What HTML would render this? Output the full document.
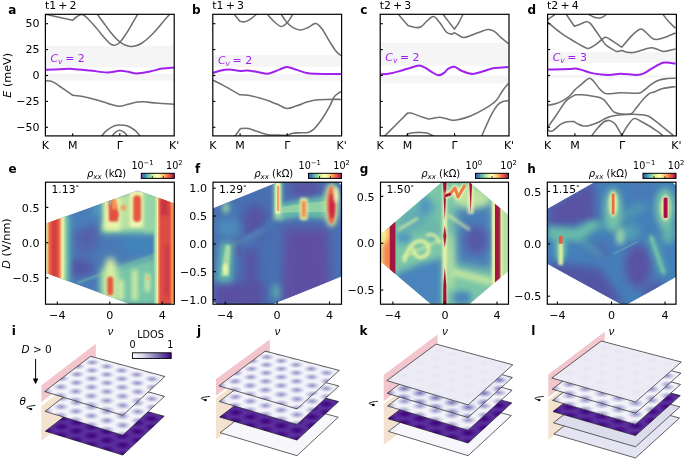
<!DOCTYPE html>
<html><head><meta charset="utf-8"><style>
html,body{margin:0;padding:0;background:#fff;}
svg{display:block;font-family:'DejaVu Sans','Liberation Sans',sans-serif;}
</style></head><body>
<svg width="685" height="460" viewBox="0 0 685 460">
<defs><clipPath id="clipA0"><rect x="45.4" y="14.3" width="128.8" height="121.60000000000001"/></clipPath><clipPath id="clipA1"><rect x="212.8" y="14.3" width="128.8" height="121.60000000000001"/></clipPath><clipPath id="clipA2"><rect x="380.2" y="14.3" width="128.8" height="121.60000000000001"/></clipPath><clipPath id="clipA3"><rect x="547.6" y="14.3" width="128.8" height="121.60000000000001"/></clipPath><linearGradient id="gLeftG" x1="0" x2="1" y1="0" y2="0"><stop offset="0" stop-color="#e2f39b"/><stop offset="0.45" stop-color="#fbe889"/><stop offset="1" stop-color="#f8a35d"/></linearGradient><linearGradient id="spec" x1="0" x2="1" y1="0" y2="0"><stop offset="0.00" stop-color="#5e4fa2"/><stop offset="0.10" stop-color="#3288bd"/><stop offset="0.20" stop-color="#66c2a5"/><stop offset="0.30" stop-color="#abdda4"/><stop offset="0.40" stop-color="#e6f598"/><stop offset="0.50" stop-color="#ffffbf"/><stop offset="0.60" stop-color="#fee08b"/><stop offset="0.70" stop-color="#fdae61"/><stop offset="0.80" stop-color="#f46d43"/><stop offset="0.90" stop-color="#d53e4f"/><stop offset="1.00" stop-color="#9e0142"/></linearGradient><filter id="b0_5" x="-100%" y="-100%" width="300%" height="300%"><feGaussianBlur stdDeviation="0.5"/></filter><filter id="b0_6" x="-100%" y="-100%" width="300%" height="300%"><feGaussianBlur stdDeviation="0.6"/></filter><filter id="b0_7" x="-100%" y="-100%" width="300%" height="300%"><feGaussianBlur stdDeviation="0.7"/></filter><filter id="b0_8" x="-100%" y="-100%" width="300%" height="300%"><feGaussianBlur stdDeviation="0.8"/></filter><filter id="b1" x="-100%" y="-100%" width="300%" height="300%"><feGaussianBlur stdDeviation="1"/></filter><filter id="b1_2" x="-100%" y="-100%" width="300%" height="300%"><feGaussianBlur stdDeviation="1.2"/></filter><filter id="b1_3" x="-100%" y="-100%" width="300%" height="300%"><feGaussianBlur stdDeviation="1.3"/></filter><filter id="b1_5" x="-100%" y="-100%" width="300%" height="300%"><feGaussianBlur stdDeviation="1.5"/></filter><filter id="b2" x="-100%" y="-100%" width="300%" height="300%"><feGaussianBlur stdDeviation="2"/></filter><filter id="b2_5" x="-100%" y="-100%" width="300%" height="300%"><feGaussianBlur stdDeviation="2.5"/></filter><filter id="b3" x="-100%" y="-100%" width="300%" height="300%"><feGaussianBlur stdDeviation="3"/></filter><filter id="b3_5" x="-100%" y="-100%" width="300%" height="300%"><feGaussianBlur stdDeviation="3.5"/></filter><filter id="b4" x="-100%" y="-100%" width="300%" height="300%"><feGaussianBlur stdDeviation="4"/></filter><filter id="b5" x="-100%" y="-100%" width="300%" height="300%"><feGaussianBlur stdDeviation="5"/></filter><filter id="b6" x="-100%" y="-100%" width="300%" height="300%"><feGaussianBlur stdDeviation="6"/></filter><filter id="b7" x="-100%" y="-100%" width="300%" height="300%"><feGaussianBlur stdDeviation="7"/></filter><filter id="b8" x="-100%" y="-100%" width="300%" height="300%"><feGaussianBlur stdDeviation="8"/></filter><filter id="b10" x="-100%" y="-100%" width="300%" height="300%"><feGaussianBlur stdDeviation="10"/></filter><clipPath id="hc0"><polygon points="45.5,223.8 137.8,190.6 174.3,203.4 174.3,301.6 170.5,304.2 130.4,304.2 45.5,272.7"/></clipPath><clipPath id="hc1"><polygon points="213,208.3 277.5,182.2 338.4,182.2 341.5,185.5 341.5,276.6 272.5,304.2 217.5,304.2 213,301.7"/></clipPath><clipPath id="hc2"><polygon points="380.5,234.5 441.6,182.2 469.7,182.2 508.5,215.3 508.5,270.8 469.4,304.2 431.1,304.2 380.5,261.5"/></clipPath><clipPath id="hc3"><polygon points="547.3,209.0 594.5,182.2 672.3,182.2 676,185.5 676,277.0 627.4,304.2 621,304.2 547.3,263.7"/></clipPath><radialGradient id="dotL"><stop offset="0" stop-color="#8c89c4" stop-opacity="0.95"/><stop offset="0.45" stop-color="#a3a1d0" stop-opacity="0.6"/><stop offset="1" stop-color="#c8c6e2" stop-opacity="0"/></radialGradient><radialGradient id="dotM"><stop offset="0" stop-color="#7470b5" stop-opacity="1"/><stop offset="0.45" stop-color="#8f8cc4" stop-opacity="0.65"/><stop offset="1" stop-color="#b8b6da" stop-opacity="0"/></radialGradient><radialGradient id="dotD"><stop offset="0" stop-color="#3c007a" stop-opacity="1"/><stop offset="0.5" stop-color="#42087e" stop-opacity="0.6"/><stop offset="1" stop-color="#4a1588" stop-opacity="0"/></radialGradient><radialGradient id="dotP"><stop offset="0" stop-color="#d6d5ea" stop-opacity="0.4"/><stop offset="1" stop-color="#e8e7f3" stop-opacity="0"/></radialGradient><linearGradient id="ldos" x1="0" x2="1" y1="0" y2="0"><stop offset="0" stop-color="#fcfbfd"/><stop offset="0.25" stop-color="#dadaeb"/><stop offset="0.5" stop-color="#9e9ac8"/><stop offset="0.75" stop-color="#6a51a3"/><stop offset="1" stop-color="#3f007d"/></linearGradient><clipPath id="lc1"><polygon points="90.60,396.00 164.20,416.20 122.80,455.10 45.40,431.20"/></clipPath><clipPath id="lc2"><polygon points="90.60,376.15 164.55,396.35 122.80,435.25 45.00,411.35"/></clipPath><clipPath id="lc3"><polygon points="90.60,356.30 164.90,376.50 122.80,415.40 44.60,391.50"/></clipPath><clipPath id="lc4"><polygon points="265.20,397.90 338.25,417.20 297.00,455.70 220.10,432.70"/></clipPath><clipPath id="lc5"><polygon points="265.20,382.30 338.60,401.60 297.00,440.10 219.70,417.10"/></clipPath><clipPath id="lc6"><polygon points="265.20,366.70 338.95,386.00 297.00,424.50 219.30,401.50"/></clipPath><clipPath id="lc7"><polygon points="265.20,351.10 339.30,370.40 297.00,408.90 218.90,385.90"/></clipPath><clipPath id="lc8"><polygon points="436.10,394.90 511.40,415.60 468.10,455.70 388.40,431.40"/></clipPath><clipPath id="lc9"><polygon points="436.10,382.20 511.75,402.90 468.10,443.00 388.00,418.70"/></clipPath><clipPath id="lc10"><polygon points="436.10,369.50 512.10,390.20 468.10,430.30 387.60,406.00"/></clipPath><clipPath id="lc11"><polygon points="436.10,356.80 512.45,377.50 468.10,417.60 387.20,393.30"/></clipPath><clipPath id="lc12"><polygon points="436.10,344.10 512.80,364.80 468.10,404.90 386.80,380.60"/></clipPath><clipPath id="lc13"><polygon points="601.30,397.00 679.55,418.00 635.50,458.00 553.80,434.00"/></clipPath><clipPath id="lc14"><polygon points="601.30,385.80 679.90,406.80 635.50,446.80 553.40,422.80"/></clipPath><clipPath id="lc15"><polygon points="601.30,374.60 680.25,395.60 635.50,435.60 553.00,411.60"/></clipPath><clipPath id="lc16"><polygon points="601.30,363.40 680.60,384.40 635.50,424.40 552.60,400.40"/></clipPath><clipPath id="lc17"><polygon points="601.30,352.20 680.95,373.20 635.50,413.20 552.20,389.20"/></clipPath><clipPath id="lc18"><polygon points="601.30,341.00 681.30,362.00 635.50,402.00 551.80,378.00"/></clipPath></defs>
<rect width="685" height="460" fill="#fff"/>
<rect x="45.4" y="45.8" width="128.8" height="21.60000000000001" fill="#f5f5f5"/>
<rect x="45.4" y="73.9" width="128.8" height="6.699999999999989" fill="#f5f5f5"/>
<g clip-path="url(#clipA0)" fill="none" stroke="#707070" stroke-width="1.55" stroke-linejoin="round">
<path d="M45.40,14.30 L72.60,20.30 C73.25,19.75 75.13,17.95 76.50,17.00 C77.87,16.05 79.55,14.88 80.80,14.60 C82.05,14.32 82.80,14.60 84.00,15.30 C85.20,16.00 86.17,16.93 88.00,18.80 C89.83,20.67 93.00,24.22 95.00,26.50 C97.00,28.78 98.17,30.33 100.00,32.50 C101.83,34.67 104.33,37.65 106.00,39.50 C107.67,41.35 108.72,42.63 110.00,43.60 C111.28,44.57 112.53,45.17 113.70,45.30 C114.87,45.43 115.93,44.93 117.00,44.40 C118.07,43.87 118.60,43.83 120.10,42.10 C121.60,40.37 124.02,37.02 126.00,34.00 C127.98,30.98 130.07,27.28 132.00,24.00 C133.93,20.72 136.67,15.92 137.60,14.30"/>
<path d="M97.30,14.30 C98.25,15.58 100.88,19.13 103.00,22.00 C105.12,24.87 107.83,28.75 110.00,31.50 C112.17,34.25 114.32,36.73 116.00,38.50 C117.68,40.27 118.60,41.02 120.10,42.10 C121.60,43.18 123.25,44.27 125.00,45.00 C126.75,45.73 128.77,46.37 130.60,46.50 C132.43,46.63 134.10,46.38 136.00,45.80 C137.90,45.22 139.67,44.55 142.00,43.00 C144.33,41.45 147.33,39.00 150.00,36.50 C152.67,34.00 155.50,30.83 158.00,28.00 C160.50,25.17 163.03,21.78 165.00,19.50 C166.97,17.22 169.00,15.17 169.80,14.30"/>
<path d="M45.40,80.60 C46.18,80.68 48.63,80.77 50.10,81.10 C51.57,81.43 52.55,81.70 54.20,82.60 C55.85,83.50 56.90,84.38 60.00,86.50 C63.10,88.62 70.67,93.83 72.80,95.30 C74.47,95.48 79.08,95.70 82.80,96.40 C86.52,97.10 91.35,98.47 95.10,99.50 C98.85,100.53 102.58,101.75 105.30,102.60 C108.02,103.45 108.98,103.98 111.40,104.60 C113.82,105.22 117.00,106.37 119.80,106.30 C122.60,106.23 125.23,104.90 128.20,104.20 C131.17,103.50 134.97,102.50 137.60,102.10 C140.23,101.70 140.83,101.63 144.00,101.80 C147.17,101.97 151.57,102.70 156.60,103.10 C161.63,103.50 171.27,104.02 174.20,104.20"/>
<path d="M101.30,136.50 C101.75,135.93 102.85,134.28 104.00,133.10 C105.15,131.92 106.45,130.62 108.20,129.40 C109.95,128.18 112.57,126.53 114.50,125.80 C116.43,125.07 117.70,125.00 119.80,125.00 C121.90,125.00 124.65,124.97 127.10,125.80 C129.55,126.63 132.68,128.72 134.50,130.00 C136.32,131.28 137.03,132.42 138.00,133.50 C138.97,134.58 139.92,136.00 140.30,136.50"/>
<path d="M111.90,136.50 C112.42,135.87 113.68,133.73 115.00,132.70 C116.32,131.67 118.22,130.30 119.80,130.30 C121.38,130.30 123.18,131.67 124.50,132.70 C125.82,133.73 127.17,135.87 127.70,136.50"/>
<path d="M45.40,69.70 C47.83,69.62 55.45,69.33 60.00,69.20 C64.55,69.07 67.70,68.68 72.70,68.90 C77.70,69.12 84.28,69.90 90.00,70.50 C95.72,71.10 102.00,72.45 107.00,72.50 C112.00,72.55 116.50,70.92 120.00,70.80 C123.50,70.68 125.17,71.35 128.00,71.80 C130.83,72.25 133.33,73.55 137.00,73.50 C140.67,73.45 145.83,72.32 150.00,71.50 C154.17,70.68 157.97,69.27 162.00,68.60 C166.03,67.93 172.17,67.68 174.20,67.50" stroke="#a020f0" stroke-width="2"/>
</g>
<rect x="45.4" y="14.3" width="128.8" height="121.60000000000001" fill="none" stroke="#000" stroke-width="1.2"/>
<line x1="45.4" y1="23.70" x2="48.0" y2="23.70" stroke="#000" stroke-width="1.1"/>
<line x1="45.4" y1="49.60" x2="48.0" y2="49.60" stroke="#000" stroke-width="1.1"/>
<line x1="45.4" y1="75.50" x2="48.0" y2="75.50" stroke="#000" stroke-width="1.1"/>
<line x1="45.4" y1="101.40" x2="48.0" y2="101.40" stroke="#000" stroke-width="1.1"/>
<line x1="45.4" y1="127.30" x2="48.0" y2="127.30" stroke="#000" stroke-width="1.1"/>
<line x1="72.70" y1="135.9" x2="72.70" y2="133.3" stroke="#000" stroke-width="1.1"/>
<line x1="119.80" y1="135.9" x2="119.80" y2="133.3" stroke="#000" stroke-width="1.1"/>
<text x="45.40" y="148.9" font-size="11" text-anchor="middle">K</text>
<text x="72.70" y="148.9" font-size="11" text-anchor="middle">M</text>
<text x="119.80" y="148.9" font-size="11" text-anchor="middle">Γ</text>
<text x="174.20" y="148.9" font-size="11" text-anchor="middle">K'</text>
<text x="44.9" y="9.2" font-size="10.9" word-spacing="-1.3">t1 + 2</text>
<text x="50.5" y="62" font-size="10.9" fill="#a020f0"><tspan font-style="italic">C</tspan><tspan font-style="italic" font-size="7.6" dy="2">v</tspan><tspan dy="-2" dx="-0.9"> = 2</tspan></text>
<rect x="212.8" y="55.1" width="128.8" height="11.699999999999996" fill="#f5f5f5"/>
<rect x="212.8" y="74.2" width="128.8" height="6.5" fill="#f5f5f5"/>
<g clip-path="url(#clipA1)" fill="none" stroke="#707070" stroke-width="1.55" stroke-linejoin="round">
<path d="M234.20,14.30 L239.90,21.20 C240.72,21.30 243.03,22.13 244.80,21.80 C246.57,21.47 248.58,20.45 250.50,19.20 C252.42,17.95 255.33,15.12 256.30,14.30"/>
<path d="M267.40,14.30 C268.50,15.50 271.70,19.48 274.00,21.50 C276.30,23.52 279.02,26.18 281.20,26.40 C283.38,26.62 285.15,24.82 287.10,22.80 C289.05,20.78 291.93,15.72 292.90,14.30"/>
<path d="M281.20,14.30 C282.18,15.72 285.12,20.58 287.10,22.80 C289.08,25.02 290.90,26.40 293.10,27.60 C295.30,28.80 297.82,30.02 300.30,30.00 C302.78,29.98 305.40,28.60 308.00,27.50 C310.60,26.40 313.58,23.18 315.90,23.40 C318.22,23.62 319.70,25.92 321.90,28.80 C324.10,31.68 326.70,36.92 329.10,40.70 C331.50,44.48 334.23,48.98 336.30,51.50 C338.37,54.02 340.63,55.08 341.50,55.80"/>
<path d="M212.80,80.10 C214.55,80.98 218.82,82.95 223.30,85.40 C227.78,87.85 236.97,93.23 239.70,94.80 C241.12,94.88 244.90,94.78 248.20,95.30 C251.50,95.82 256.12,97.00 259.50,97.90 C262.88,98.80 265.18,99.48 268.50,100.70 C271.82,101.92 276.33,103.90 279.40,105.20 C282.47,106.50 284.00,108.40 286.90,108.50 C289.80,108.60 293.50,106.87 296.80,105.80 C300.10,104.73 303.60,103.08 306.70,102.10 C309.80,101.12 311.88,100.35 315.40,99.90 C318.92,99.45 323.45,99.48 327.80,99.40 C332.15,99.32 339.22,99.40 341.50,99.40"/>
<path d="M234.70,136.50 L240.50,128.50 C241.85,128.50 245.65,127.95 248.60,128.50 C251.55,129.05 254.98,130.77 258.20,131.80 C261.42,132.83 264.68,134.15 267.90,134.70 C271.12,135.25 274.45,135.00 277.50,135.10 C280.55,135.20 283.63,135.60 286.20,135.30 C288.77,135.00 290.50,133.72 292.90,133.30 C295.30,132.88 298.03,132.95 300.60,132.80 C303.17,132.65 306.05,133.05 308.30,132.40 C310.55,131.75 311.85,131.08 314.10,128.90 C316.35,126.72 319.23,123.00 321.80,119.30 C324.37,115.60 327.47,110.40 329.50,106.70 C331.53,103.00 332.43,99.42 334.00,97.10 C335.57,94.78 337.65,93.72 338.90,92.80 C340.15,91.88 341.07,91.80 341.50,91.60"/>
<path d="M212.80,73.00 C213.98,72.62 217.20,71.27 219.90,70.70 C222.60,70.13 225.62,69.55 229.00,69.60 C232.38,69.65 237.20,70.87 240.20,71.00 C243.20,71.13 244.17,70.25 247.00,70.40 C249.83,70.55 253.80,71.33 257.20,71.90 C260.60,72.47 264.38,73.90 267.40,73.80 C270.42,73.70 273.30,72.00 275.30,71.30 C277.30,70.60 277.47,70.32 279.40,69.60 C281.33,68.88 284.00,66.95 286.90,67.00 C289.80,67.05 293.50,68.90 296.80,69.90 C300.10,70.90 303.60,72.35 306.70,73.00 C309.80,73.65 311.85,73.65 315.40,73.80 C318.95,73.95 323.65,73.88 328.00,73.90 C332.35,73.92 339.25,73.90 341.50,73.90" stroke="#a020f0" stroke-width="2"/>
</g>
<rect x="212.8" y="14.3" width="128.8" height="121.60000000000001" fill="none" stroke="#000" stroke-width="1.2"/>
<line x1="212.8" y1="23.70" x2="215.4" y2="23.70" stroke="#000" stroke-width="1.1"/>
<line x1="212.8" y1="49.60" x2="215.4" y2="49.60" stroke="#000" stroke-width="1.1"/>
<line x1="212.8" y1="75.50" x2="215.4" y2="75.50" stroke="#000" stroke-width="1.1"/>
<line x1="212.8" y1="101.40" x2="215.4" y2="101.40" stroke="#000" stroke-width="1.1"/>
<line x1="212.8" y1="127.30" x2="215.4" y2="127.30" stroke="#000" stroke-width="1.1"/>
<line x1="240.10" y1="135.9" x2="240.10" y2="133.3" stroke="#000" stroke-width="1.1"/>
<line x1="287.20" y1="135.9" x2="287.20" y2="133.3" stroke="#000" stroke-width="1.1"/>
<text x="212.80" y="148.9" font-size="11" text-anchor="middle">K</text>
<text x="240.10" y="148.9" font-size="11" text-anchor="middle">M</text>
<text x="287.20" y="148.9" font-size="11" text-anchor="middle">Γ</text>
<text x="341.60" y="148.9" font-size="11" text-anchor="middle">K'</text>
<text x="212.3" y="9.2" font-size="10.9" word-spacing="-1.3">t1 + 3</text>
<text x="217.9" y="63.5" font-size="10.9" fill="#a020f0"><tspan font-style="italic">C</tspan><tspan font-style="italic" font-size="7.6" dy="2">v</tspan><tspan dy="-2" dx="-0.9"> = 2</tspan></text>
<rect x="380.2" y="42.8" width="128.8" height="22.700000000000003" fill="#f5f5f5"/>
<rect x="380.2" y="75.5" width="128.8" height="7.799999999999997" fill="#f5f5f5"/>
<g clip-path="url(#clipA2)" fill="none" stroke="#707070" stroke-width="1.55" stroke-linejoin="round">
<path d="M398.30,14.30 L407.90,25.50 C409.35,25.85 414.35,27.43 416.60,27.60 C418.85,27.77 419.67,27.60 421.40,26.50 C423.13,25.40 424.98,22.65 427.00,21.00 C429.02,19.35 431.38,16.33 433.50,16.60 C435.62,16.87 437.62,20.08 439.70,22.60 C441.78,25.12 444.10,29.78 446.00,31.70 C447.90,33.62 449.70,33.93 451.10,34.10 C452.50,34.27 453.85,32.93 454.40,32.70 C455.12,33.12 457.00,34.42 458.70,35.20 C460.40,35.98 461.55,37.75 464.60,37.40 C467.65,37.05 473.13,34.42 477.00,33.10 C480.87,31.78 484.92,29.78 487.80,29.50 C490.68,29.22 492.13,30.08 494.30,31.40 C496.47,32.72 498.45,35.38 500.80,37.40 C503.15,39.42 507.13,42.48 508.40,43.50"/>
<path d="M443.00,14.30 L454.40,29.10 C455.12,28.05 457.27,25.27 458.70,22.80 C460.13,20.33 462.28,15.72 463.00,14.30"/>
<path d="M383.90,136.50 C384.85,135.60 385.67,135.00 389.60,131.10 C393.53,127.20 404.52,116.10 407.50,113.10 C408.22,113.13 409.63,112.75 411.80,113.30 C413.97,113.85 417.77,115.47 420.50,116.40 C423.23,117.33 425.95,118.62 428.20,118.90 C430.45,119.18 432.08,118.38 434.00,118.10 C435.92,117.82 437.70,117.12 439.70,117.20 C441.70,117.28 443.55,118.10 446.00,118.60 C448.45,119.10 450.32,120.65 454.40,120.20 C458.48,119.75 465.55,117.73 470.50,115.90 C475.45,114.07 479.87,111.73 484.10,109.20 C488.33,106.67 492.80,103.82 495.90,100.70 C499.00,97.58 500.62,93.37 502.70,90.50 C504.78,87.63 507.45,84.67 508.40,83.50"/>
<path d="M481.50,136.50 C483.05,133.07 488.12,121.17 490.80,115.90 C493.48,110.63 495.47,107.35 497.60,104.90 C499.73,102.45 501.80,101.90 503.60,101.20 C505.40,100.50 507.60,100.78 508.40,100.70"/>
<path d="M406.50,136.50 L407.50,134.00 C408.38,133.80 410.63,133.07 412.80,132.80 C414.97,132.53 418.10,132.35 420.50,132.40 C422.90,132.45 424.95,132.42 427.20,133.10 C429.45,133.78 432.87,135.93 434.00,136.50"/>
<path d="M380.20,74.50 C381.80,74.35 386.57,74.17 389.80,73.60 C393.03,73.03 396.35,72.00 399.60,71.10 C402.85,70.20 406.05,69.12 409.30,68.20 C412.55,67.28 416.33,65.60 419.10,65.60 C421.87,65.60 423.62,67.03 425.90,68.20 C428.18,69.37 430.67,71.42 432.80,72.60 C434.93,73.78 436.75,75.30 438.70,75.30 C440.65,75.30 442.95,73.68 444.50,72.60 C446.05,71.52 446.35,69.77 448.00,68.80 C449.65,67.83 452.07,66.43 454.40,66.80 C456.73,67.17 459.03,69.82 462.00,71.00 C464.97,72.18 468.80,73.82 472.20,73.90 C475.60,73.98 478.73,72.47 482.40,71.50 C486.07,70.53 489.87,68.83 494.20,68.10 C498.53,67.37 506.03,67.27 508.40,67.10" stroke="#a020f0" stroke-width="2"/>
</g>
<rect x="380.2" y="14.3" width="128.8" height="121.60000000000001" fill="none" stroke="#000" stroke-width="1.2"/>
<line x1="380.2" y1="23.70" x2="382.8" y2="23.70" stroke="#000" stroke-width="1.1"/>
<line x1="380.2" y1="49.60" x2="382.8" y2="49.60" stroke="#000" stroke-width="1.1"/>
<line x1="380.2" y1="75.50" x2="382.8" y2="75.50" stroke="#000" stroke-width="1.1"/>
<line x1="380.2" y1="101.40" x2="382.8" y2="101.40" stroke="#000" stroke-width="1.1"/>
<line x1="380.2" y1="127.30" x2="382.8" y2="127.30" stroke="#000" stroke-width="1.1"/>
<line x1="407.50" y1="135.9" x2="407.50" y2="133.3" stroke="#000" stroke-width="1.1"/>
<line x1="454.60" y1="135.9" x2="454.60" y2="133.3" stroke="#000" stroke-width="1.1"/>
<text x="380.20" y="148.9" font-size="11" text-anchor="middle">K</text>
<text x="407.50" y="148.9" font-size="11" text-anchor="middle">M</text>
<text x="454.60" y="148.9" font-size="11" text-anchor="middle">Γ</text>
<text x="509.00" y="148.9" font-size="11" text-anchor="middle">K'</text>
<text x="379.7" y="9.2" font-size="10.9" word-spacing="-1.3">t2 + 3</text>
<text x="385.3" y="61" font-size="10.9" fill="#a020f0"><tspan font-style="italic">C</tspan><tspan font-style="italic" font-size="7.6" dy="2">v</tspan><tspan dy="-2" dx="-0.9"> = 2</tspan></text>
<rect x="547.6" y="52.0" width="128.8" height="10.799999999999997" fill="#f5f5f5"/>
<rect x="547.6" y="75.2" width="128.8" height="2.5999999999999943" fill="#f5f5f5"/>
<g clip-path="url(#clipA3)" fill="none" stroke="#707070" stroke-width="1.55" stroke-linejoin="round">
<path d="M547.60,19.70 C548.25,19.22 550.23,17.70 551.50,16.80 C552.77,15.90 554.58,14.72 555.20,14.30"/>
<path d="M566.20,14.30 L574.40,26.30 C575.45,25.92 578.68,24.75 580.70,24.00 C582.72,23.25 584.90,21.90 586.50,21.80 C588.10,21.70 588.70,21.82 590.30,23.40 C591.90,24.98 594.25,28.70 596.10,31.30 C597.95,33.90 599.80,36.75 601.40,39.00 C603.00,41.25 604.23,43.33 605.70,44.80 C607.17,46.27 608.40,46.70 610.20,47.80 C612.00,48.90 614.57,50.97 616.50,51.40 C618.43,51.83 620.92,50.57 621.80,50.40 C622.67,50.70 625.08,51.85 627.00,52.20 C628.92,52.55 631.02,52.80 633.30,52.50 C635.58,52.20 637.72,51.18 640.70,50.40 C643.68,49.62 648.57,48.03 651.20,47.80 C653.83,47.57 654.40,48.40 656.50,49.00 C658.60,49.60 660.62,51.40 663.80,51.40 C666.98,51.40 673.63,49.40 675.60,49.00"/>
<path d="M547.60,22.10 C549.75,23.87 555.95,29.40 560.50,32.70 C565.05,36.00 570.90,39.48 574.90,41.90 C578.90,44.32 582.25,46.12 584.50,47.20 C586.75,48.28 586.78,48.65 588.40,48.40 C590.02,48.15 591.95,47.18 594.20,45.70 C596.45,44.22 599.93,40.92 601.90,39.50 C603.87,38.08 604.27,36.97 606.00,37.20 C607.73,37.43 609.67,39.23 612.30,40.90 C614.93,42.57 620.22,46.15 621.80,47.20 C623.55,45.18 629.15,38.13 632.30,35.10 C635.45,32.07 638.42,29.43 640.70,29.00 C642.98,28.57 644.07,30.95 646.00,32.50 C647.93,34.05 650.55,37.13 652.30,38.30 C654.05,39.47 654.58,39.58 656.50,39.50 C658.42,39.42 660.62,38.88 663.80,37.80 C666.98,36.72 673.63,33.80 675.60,33.00"/>
<path d="M588.40,14.30 C589.37,14.80 592.27,16.68 594.20,17.30 C596.13,17.92 598.40,18.17 600.00,18.00 C601.60,17.83 602.77,16.92 603.80,16.30 C604.83,15.68 605.80,14.63 606.20,14.30"/>
<path d="M662.80,14.30 C663.85,15.58 666.97,19.67 669.10,22.00 C671.23,24.33 674.52,27.25 675.60,28.30"/>
<path d="M547.60,105.20 C548.93,104.95 552.98,104.52 555.60,103.70 C558.22,102.88 560.88,101.67 563.30,100.30 C565.72,98.93 568.12,97.32 570.10,95.50 C572.08,93.68 574.35,90.42 575.20,89.40 C576.42,88.38 580.23,85.13 582.50,83.30 C584.77,81.47 587.05,78.87 588.80,78.40 C590.55,77.93 591.27,78.83 593.00,80.50 C594.73,82.17 597.28,86.30 599.20,88.40 C601.12,90.50 602.93,92.20 604.50,93.10 C606.07,94.00 605.90,93.85 608.60,93.80 C611.30,93.75 615.88,92.88 620.70,92.80 C625.52,92.72 633.82,93.57 637.50,93.30 C641.18,93.03 640.52,92.68 642.80,91.20 C645.08,89.72 648.57,86.23 651.20,84.40 C653.83,82.57 655.97,81.17 658.60,80.20 C661.23,79.23 664.17,78.92 667.00,78.60 C669.83,78.28 674.17,78.35 675.60,78.30"/>
<path d="M547.60,127.30 C548.93,125.45 552.65,120.45 555.60,116.20 C558.55,111.95 562.90,104.87 565.30,101.80 C567.70,98.73 568.35,98.97 570.00,97.80 C571.65,96.63 574.33,95.30 575.20,94.80 C576.42,94.80 579.53,94.57 582.50,94.80 C585.47,95.03 590.03,95.70 593.00,96.20 C595.97,96.70 598.38,97.10 600.30,97.80 C602.22,98.50 602.85,98.77 604.50,100.40 C606.15,102.03 608.55,105.62 610.20,107.60 C611.85,109.58 612.47,111.25 614.40,112.30 C616.33,113.35 619.00,113.67 621.80,113.90 C624.60,114.13 628.75,114.75 631.20,113.70 C633.65,112.65 634.57,109.93 636.50,107.60 C638.43,105.27 640.73,102.00 642.80,99.70 C644.87,97.40 647.15,95.03 648.90,93.80 C650.65,92.57 650.98,93.17 653.30,92.30 C655.62,91.43 659.08,89.57 662.80,88.60 C666.52,87.63 673.47,86.85 675.60,86.50"/>
<path d="M547.60,129.20 C547.98,129.53 548.88,131.03 549.90,131.20 C550.92,131.37 551.93,131.33 553.70,130.20 C555.47,129.07 558.25,125.80 560.50,124.40 C562.75,123.00 564.97,122.28 567.20,121.80 C569.43,121.32 572.78,121.55 573.90,121.50 C574.55,121.90 576.18,123.17 577.80,123.90 C579.42,124.63 581.67,125.65 583.60,125.90 C585.53,126.15 586.83,126.05 589.40,125.40 C591.97,124.75 596.28,123.20 599.00,122.00 C601.72,120.80 603.48,119.20 605.70,118.20 C607.92,117.20 609.62,116.58 612.30,116.00 C614.98,115.42 617.60,114.97 621.80,114.70 C626.00,114.43 633.12,114.18 637.50,114.40 C641.88,114.62 644.93,114.77 648.10,116.00 C651.27,117.23 653.70,119.70 656.50,121.80 C659.30,123.90 662.10,126.33 664.90,128.60 C667.70,130.87 671.90,134.27 673.30,135.40"/>
<path d="M591.30,136.50 C592.27,135.22 595.02,131.22 597.10,128.80 C599.18,126.38 601.82,123.40 603.80,122.00 C605.78,120.60 607.23,120.18 609.00,120.40 C610.77,120.62 612.80,121.77 614.40,123.30 C616.00,124.83 617.37,127.58 618.60,129.60 C619.83,131.62 621.27,134.43 621.80,135.40 C622.67,133.92 624.98,129.30 627.00,126.50 C629.02,123.70 631.62,119.48 633.90,118.60 C636.18,117.72 637.98,119.88 640.70,121.20 C643.42,122.52 647.57,124.92 650.20,126.50 C652.83,128.08 654.40,129.22 656.50,130.70 C658.60,132.18 661.75,134.62 662.80,135.40"/>
<path d="M547.60,69.60 C549.67,69.55 556.27,69.40 560.00,69.30 C563.73,69.20 567.38,69.13 570.00,69.00 C572.62,68.87 573.62,68.32 575.70,68.50 C577.78,68.68 579.97,69.37 582.50,70.10 C585.03,70.83 587.77,72.15 590.90,72.90 C594.03,73.65 597.78,74.28 601.30,74.60 C604.82,74.92 608.77,74.95 612.00,74.80 C615.23,74.65 616.62,73.68 620.70,73.70 C624.78,73.72 632.63,74.95 636.50,74.90 C640.37,74.85 641.10,74.62 643.90,73.40 C646.70,72.18 650.15,69.37 653.30,67.60 C656.45,65.83 660.17,63.60 662.80,62.80 C665.43,62.00 666.97,62.67 669.10,62.80 C671.23,62.93 674.52,63.47 675.60,63.60" stroke="#a020f0" stroke-width="2"/>
</g>
<rect x="547.6" y="14.3" width="128.8" height="121.60000000000001" fill="none" stroke="#000" stroke-width="1.2"/>
<line x1="547.6" y1="23.70" x2="550.2" y2="23.70" stroke="#000" stroke-width="1.1"/>
<line x1="547.6" y1="49.60" x2="550.2" y2="49.60" stroke="#000" stroke-width="1.1"/>
<line x1="547.6" y1="75.50" x2="550.2" y2="75.50" stroke="#000" stroke-width="1.1"/>
<line x1="547.6" y1="101.40" x2="550.2" y2="101.40" stroke="#000" stroke-width="1.1"/>
<line x1="547.6" y1="127.30" x2="550.2" y2="127.30" stroke="#000" stroke-width="1.1"/>
<line x1="574.90" y1="135.9" x2="574.90" y2="133.3" stroke="#000" stroke-width="1.1"/>
<line x1="622.00" y1="135.9" x2="622.00" y2="133.3" stroke="#000" stroke-width="1.1"/>
<text x="547.60" y="148.9" font-size="11" text-anchor="middle">K</text>
<text x="574.90" y="148.9" font-size="11" text-anchor="middle">M</text>
<text x="622.00" y="148.9" font-size="11" text-anchor="middle">Γ</text>
<text x="676.40" y="148.9" font-size="11" text-anchor="middle">K'</text>
<text x="547.1" y="9.2" font-size="10.9" word-spacing="-1.3">t2 + 4</text>
<text x="552.7" y="60.5" font-size="10.9" fill="#a020f0"><tspan font-style="italic">C</tspan><tspan font-style="italic" font-size="7.6" dy="2">v</tspan><tspan dy="-2" dx="-0.9"> = 3</tspan></text>
<text x="39.4" y="27.20" font-size="11" text-anchor="end">50</text>
<text x="39.4" y="53.10" font-size="11" text-anchor="end">25</text>
<text x="39.4" y="79.00" font-size="11" text-anchor="end">0</text>
<text x="39.4" y="104.90" font-size="11" text-anchor="end">−25</text>
<text x="39.4" y="130.80" font-size="11" text-anchor="end">−50</text>
<text transform="translate(10.6,75.3) rotate(-90)" font-size="11.2" text-anchor="middle"><tspan font-style="italic">E</tspan> (meV)</text>
<g clip-path="url(#hc0)"><rect x="45.5" y="182.2" width="128.8" height="122.0" fill="#4a7ab6"/><ellipse cx="86" cy="240" rx="12" ry="14" fill="#5560a8" opacity="1" filter="url(#b6)"/><ellipse cx="90" cy="228" rx="8" ry="6" fill="#5a5ba6" opacity="0.8" filter="url(#b4)"/><polygon points="66,218 103,205 103,222 66,232" fill="#4a82bb" opacity="0.8" filter="url(#b4)"/><ellipse cx="80" cy="268" rx="14" ry="9" fill="#5355a4" opacity="1" filter="url(#b4)"/><ellipse cx="140" cy="245" rx="16" ry="10" fill="#3f86bb" opacity="1" filter="url(#b5)"/><ellipse cx="100" cy="205" rx="8" ry="14" fill="#55a2b6" opacity="0.8" filter="url(#b4)"/><rect x="101" y="222" width="56" height="12" rx="0" fill="#70c1a8" opacity="1" filter="url(#b3)"/><polygon points="103,196 150,190 150,229 103,231" fill="#b8e1a2" opacity="1" filter="url(#b2_5)"/><rect x="104.5" y="197" width="16" height="33" rx="0" fill="#eaf5ab" opacity="1" filter="url(#b2)"/><rect x="129.8" y="191" width="14.6" height="36" rx="0" fill="#eef7b0" opacity="1" filter="url(#b1_5)"/><rect x="144" y="192" width="13" height="40" rx="0" fill="#97d5a6" opacity="1" filter="url(#b2_5)"/><polygon points="100,271 157,256 157,306 100,306" fill="#78c6a7" opacity="1" filter="url(#b3_5)"/><line x1="77" y1="283" x2="155" y2="255" stroke="#6fc0a8" stroke-width="1.6" opacity="0.9" filter="url(#b0_8)"/><ellipse cx="110.5" cy="283" rx="7.5" ry="26" fill="#d8efa0" opacity="1" filter="url(#b3)"/><rect x="45.5" y="215" width="25" height="70" rx="0" fill="#5aa9b4" opacity="1" filter="url(#b2_5)"/><rect x="45.5" y="215" width="22" height="70" rx="0" fill="#7ccaa6" opacity="1" filter="url(#b1_5)"/><rect x="45.5" y="215" width="19.5" height="70" rx="0" fill="#b5e0a3" opacity="1" filter="url(#b1)"/><rect x="45.5" y="215" width="18" height="70" rx="0" fill="#f6fab8" opacity="1" filter="url(#b0_8)"/><rect x="47.8" y="215" width="13" height="70" rx="0" fill="#f46d43" opacity="1" filter="url(#b0_8)"/><rect x="50" y="215" width="8.5" height="70" rx="0" fill="#e0523f" opacity="1" filter="url(#b0_8)"/><rect x="52" y="215" width="5" height="70" rx="0" fill="#c9334a" opacity="0.6" filter="url(#b1_2)"/><rect x="154" y="190" width="20.3" height="116" rx="0" fill="#a8dba4" opacity="1" filter="url(#b1_2)"/><rect x="156.6" y="190" width="17.7" height="116" rx="0" fill="#f6f9b5" opacity="1" filter="url(#b0_8)"/><rect x="158.3" y="190" width="16" height="116" rx="0" fill="#f47045" opacity="1" filter="url(#b0_7)"/><rect x="160.2" y="190" width="10.2" height="116" rx="0" fill="#dc4c45" opacity="1" filter="url(#b0_7)"/><rect x="161.5" y="195" width="6" height="20" rx="0" fill="#b8203f" opacity="0.6" filter="url(#b1_5)"/><rect x="165" y="245" width="4" height="50" rx="0" fill="#c02a45" opacity="0.5" filter="url(#b1_5)"/><rect x="172" y="190" width="2.3" height="116" rx="0" fill="#f9ad62" opacity="1" filter="url(#b0_8)"/><line x1="162.2" y1="240" x2="162.2" y2="279" stroke="#bcbcbc" stroke-width="1.3" opacity="0.85" filter="url(#b0_6)"/><rect x="133.2" y="195.2" width="7.8" height="26.8" rx="3.9" fill="#e6573f" opacity="1" filter="url(#b0_8)"/><polygon points="108.5,199 114,199 119,214 117.5,221.5 109,221.5" fill="#e0503f" opacity="1" filter="url(#b1_2)"/><polygon points="111,199 116,199 118,209 112,210" fill="#f59a5a" opacity="0.9" filter="url(#b1)"/><ellipse cx="123.4" cy="207.7" rx="2.8" ry="2.8" fill="#f7a05c" opacity="1" filter="url(#b0_8)"/><polygon points="109,199 112,199 110.5,206" fill="#a9a9a9" opacity="1" filter="url(#b0_4)"/><rect x="107.2" y="276.5" width="6" height="19" rx="3" fill="#e35a3f" opacity="1" filter="url(#b0_8)"/><rect x="118.5" y="280" width="5" height="20" rx="0" fill="#e6f4a8" opacity="0.85" filter="url(#b2)"/><rect x="132" y="270" width="5.5" height="30" rx="0" fill="#e3f2a5" opacity="0.85" filter="url(#b2)"/><rect x="145" y="273.5" width="5" height="18" rx="0" fill="#e3f2a5" opacity="0.85" filter="url(#b2)"/><ellipse cx="147.6" cy="278" rx="1.5" ry="1.5" fill="#f9b36a" opacity="1" filter="url(#b0_6)"/></g>
<rect x="45.5" y="182.2" width="128.8" height="122.0" fill="none" stroke="#000" stroke-width="1.2"/>
<line x1="45.5" y1="207.4" x2="48.3" y2="207.4" stroke="#000" stroke-width="1.1"/>
<text x="39.5" y="211.50" font-size="11.1" text-anchor="end">0.5</text>
<line x1="45.5" y1="242.7" x2="48.3" y2="242.7" stroke="#000" stroke-width="1.1"/>
<text x="39.5" y="246.80" font-size="11.1" text-anchor="end">0.0</text>
<line x1="45.5" y1="277.9" x2="48.3" y2="277.9" stroke="#000" stroke-width="1.1"/>
<text x="39.5" y="282.00" font-size="11.1" text-anchor="end">−0.5</text>
<line x1="57.3" y1="304.2" x2="57.3" y2="301.4" stroke="#000" stroke-width="1.1"/>
<text x="57.3" y="318.6" font-size="11.1" text-anchor="middle">−4</text>
<line x1="109.8" y1="304.2" x2="109.8" y2="301.4" stroke="#000" stroke-width="1.1"/>
<text x="109.8" y="318.6" font-size="11.1" text-anchor="middle">0</text>
<line x1="162.2" y1="304.2" x2="162.2" y2="301.4" stroke="#000" stroke-width="1.1"/>
<text x="162.2" y="318.6" font-size="11.1" text-anchor="middle">4</text>
<text x="51.5" y="192.5" font-size="10.8">1.13<tspan font-size="6.6" dy="-5.0" dx="-0.3">∘</tspan></text>
<rect x="141.3" y="173.3" width="33" height="5.1" fill="url(#spec)" stroke="#000" stroke-width="1"/>
<line x1="152.30" y1="178.4" x2="152.30" y2="176.3" stroke="#000" stroke-width="0.9"/>
<line x1="163.30" y1="178.4" x2="163.30" y2="176.3" stroke="#000" stroke-width="0.9"/>
<text x="87.00000000000001" y="177.0" font-size="10"><tspan font-style="italic">ρ</tspan><tspan font-style="italic" font-size="7" dy="1.5">xx</tspan><tspan dy="-1.5"> (kΩ)</tspan></text>
<text x="131.4" y="168.8" font-size="9.6">10<tspan font-size="6.8" dy="-4.2">−1</tspan></text>
<text x="166.10000000000002" y="168.8" font-size="9.6">10<tspan font-size="6.8" dy="-4.2">2</tspan></text>
<g clip-path="url(#hc1)"><rect x="213.0" y="182.2" width="128.5" height="122.0" fill="#4970b2"/><ellipse cx="255" cy="222" rx="12" ry="18" fill="#5652a3" opacity="1" filter="url(#b5)"/><ellipse cx="240" cy="247" rx="10" ry="8" fill="#5753a3" opacity="1" filter="url(#b4)"/><polygon points="284,228 328,228 332,304 282,304" fill="#5e4fa2" opacity="1" filter="url(#b5)"/><polygon points="214,284 264,282 264,306 214,306" fill="#5a50a2" opacity="1" filter="url(#b4)"/><rect x="244" y="250" width="14" height="50" rx="0" fill="#5652a3" opacity="1" filter="url(#b4)"/><ellipse cx="305" cy="189" rx="17" ry="8" fill="#5a52a3" opacity="1" filter="url(#b4)"/><ellipse cx="226" cy="208" rx="4" ry="6" fill="#8fd1a6" opacity="0.9" filter="url(#b2_5)"/><ellipse cx="228" cy="228" rx="12" ry="10" fill="#4f8fbd" opacity="0.9" filter="url(#b4)"/><line x1="262" y1="230" x2="232" y2="246" stroke="#5aa9b5" stroke-width="3" opacity="0.7" filter="url(#b2)"/><line x1="233" y1="205" x2="236" y2="240" stroke="#4d86ba" stroke-width="4" opacity="0.6" filter="url(#b3)"/><line x1="272" y1="222" x2="240" y2="250" stroke="#4a86bb" stroke-width="5" opacity="0.8" filter="url(#b3)"/><polygon points="279,204 300,200 326,196 327,219 300,217 279,220" fill="#66baa9" opacity="1" filter="url(#b2_5)"/><polygon points="281,207 300,204 326,201 326,212 300,212 281,213" fill="#98d4a6" opacity="0.85" filter="url(#b1_8)"/><rect x="273.8" y="182" width="8" height="38" rx="0" fill="#93d4a6" opacity="1" filter="url(#b2)"/><rect x="275.3" y="182" width="5.2" height="32" rx="0" fill="#f1f8b0" opacity="1" filter="url(#b1)"/><rect x="277" y="186" width="2.2" height="25" rx="0" fill="#f7a25e" opacity="1" filter="url(#b0_7)"/><rect x="300" y="198" width="7.5" height="22" rx="0" fill="#e5f39f" opacity="1" filter="url(#b1_5)"/><rect x="301.7" y="200.5" width="4.2" height="17" rx="2" fill="#f38a51" opacity="1" filter="url(#b0_8)"/><ellipse cx="331.5" cy="205" rx="7.5" ry="22" fill="#c3e6a0" opacity="1" filter="url(#b2_5)"/><ellipse cx="331.3" cy="205" rx="4.2" ry="19" fill="#f26b45" opacity="1" filter="url(#b1)"/><ellipse cx="332" cy="206" rx="2.6" ry="13" fill="#c7244b" opacity="1" filter="url(#b0_8)"/><line x1="326" y1="190" x2="326" y2="226" stroke="#a9a9b9" stroke-width="1.5" opacity="0.9" filter="url(#b0_5)"/><ellipse cx="336" cy="195" rx="3" ry="8" fill="#f7f9b3" opacity="0.7" filter="url(#b1_5)"/><polygon points="220,242 234,242 232,282 216,282" fill="#5eb3aa" opacity="1" filter="url(#b3)"/><polygon points="225.5,245 230.5,245 229,276 221,276" fill="#a6daa4" opacity="1" filter="url(#b1_2)"/><ellipse cx="225.5" cy="269" rx="2.5" ry="6" fill="#e6f4a6" opacity="1" filter="url(#b1_2)"/><ellipse cx="276" cy="292" rx="4" ry="8" fill="#5fb4a9" opacity="0.9" filter="url(#b3)"/><line x1="276" y1="225" x2="276" y2="300" stroke="#4a8cbb" stroke-width="3" opacity="0.8" filter="url(#b2)"/></g>
<rect x="213.0" y="182.2" width="128.5" height="122.0" fill="none" stroke="#000" stroke-width="1.2"/>
<line x1="213.0" y1="188.2" x2="215.8" y2="188.2" stroke="#000" stroke-width="1.1"/>
<text x="207.0" y="192.30" font-size="11.1" text-anchor="end">1.0</text>
<line x1="213.0" y1="216.0" x2="215.8" y2="216.0" stroke="#000" stroke-width="1.1"/>
<text x="207.0" y="220.10" font-size="11.1" text-anchor="end">0.5</text>
<line x1="213.0" y1="243.9" x2="215.8" y2="243.9" stroke="#000" stroke-width="1.1"/>
<text x="207.0" y="248.00" font-size="11.1" text-anchor="end">0.0</text>
<line x1="213.0" y1="271.7" x2="215.8" y2="271.7" stroke="#000" stroke-width="1.1"/>
<text x="207.0" y="275.80" font-size="11.1" text-anchor="end">−0.5</text>
<line x1="213.0" y1="299.6" x2="215.8" y2="299.6" stroke="#000" stroke-width="1.1"/>
<text x="207.0" y="303.70" font-size="11.1" text-anchor="end">−1.0</text>
<line x1="225.2" y1="304.2" x2="225.2" y2="301.4" stroke="#000" stroke-width="1.1"/>
<text x="225.2" y="318.6" font-size="11.1" text-anchor="middle">−4</text>
<line x1="277.1" y1="304.2" x2="277.1" y2="301.4" stroke="#000" stroke-width="1.1"/>
<text x="277.1" y="318.6" font-size="11.1" text-anchor="middle">0</text>
<line x1="329.5" y1="304.2" x2="329.5" y2="301.4" stroke="#000" stroke-width="1.1"/>
<text x="329.5" y="318.6" font-size="11.1" text-anchor="middle">4</text>
<text x="219.0" y="192.5" font-size="10.8">1.29<tspan font-size="6.6" dy="-5.0" dx="-0.3">∘</tspan></text>
<rect x="308.5" y="173.3" width="33" height="5.1" fill="url(#spec)" stroke="#000" stroke-width="1"/>
<line x1="319.50" y1="178.4" x2="319.50" y2="176.3" stroke="#000" stroke-width="0.9"/>
<line x1="330.50" y1="178.4" x2="330.50" y2="176.3" stroke="#000" stroke-width="0.9"/>
<text x="254.2" y="177.0" font-size="10"><tspan font-style="italic">ρ</tspan><tspan font-style="italic" font-size="7" dy="1.5">xx</tspan><tspan dy="-1.5"> (kΩ)</tspan></text>
<text x="298.6" y="168.8" font-size="9.6">10<tspan font-size="6.8" dy="-4.2">−1</tspan></text>
<text x="333.3" y="168.8" font-size="9.6">10<tspan font-size="6.8" dy="-4.2">2</tspan></text>
<g clip-path="url(#hc2)"><rect x="380.5" y="182.2" width="128.0" height="122.0" fill="#7cc6a8"/><ellipse cx="416" cy="218" rx="18" ry="14" fill="#62abb3" opacity="0.8" filter="url(#b5)"/><line x1="398" y1="232" x2="436" y2="204" stroke="#5aa3bb" stroke-width="7" opacity="0.75" filter="url(#b3_5)"/><ellipse cx="433" cy="232" rx="5" ry="9" fill="#5a9fbe" opacity="0.7" filter="url(#b3)"/><polygon points="456,208 493,204 493,270 456,264" fill="#4a7fb8" opacity="1" filter="url(#b5)"/><ellipse cx="450" cy="262" rx="4" ry="30" fill="#c5e7a0" opacity="0.8" filter="url(#b3)"/><ellipse cx="476" cy="240" rx="12" ry="15" fill="#5658a6" opacity="1" filter="url(#b5)"/><line x1="452" y1="272" x2="492" y2="282" stroke="#c9e9a0" stroke-width="7" opacity="0.9" filter="url(#b2_5)"/><ellipse cx="462" cy="298" rx="10" ry="7" fill="#4a84bc" opacity="1" filter="url(#b3)"/><polygon points="395,274 420,264 442,258 442,306 395,306" fill="#4a84bc" opacity="1" filter="url(#b3)"/><ellipse cx="425" cy="205" rx="6" ry="9" fill="#4f94c0" opacity="1" filter="url(#b3)"/><ellipse cx="404" cy="238" rx="8" ry="6" fill="#5096c0" opacity="1" filter="url(#b3)"/><ellipse cx="432" cy="225" rx="6" ry="8" fill="#6bbba9" opacity="1" filter="url(#b3)"/><path d="M404,262 C406,252 412,240 421,241 C430,242 431,252 425,256 C419,260 412,254 414,248" fill="none" stroke="#e3f39d" stroke-width="3.5" filter="url(#b1_5)"/><path d="M426,236 C432,232 438,236 440,244" fill="none" stroke="#d9f09e" stroke-width="3" filter="url(#b1_5)"/><line x1="398" y1="230" x2="418" y2="218" stroke="#d9f09e" stroke-width="3" opacity="0.8" filter="url(#b1_5)"/><line x1="402" y1="258" x2="440" y2="240" stroke="#d9f09e" stroke-width="2.5" opacity="0.7" filter="url(#b1_5)"/><ellipse cx="472" cy="198" rx="18" ry="10" fill="#c3e6a0" opacity="0.9" filter="url(#b3)"/><line x1="448" y1="215" x2="470" y2="230" stroke="#dff19e" stroke-width="3" opacity="0.7" filter="url(#b1_5)"/><rect x="380" y="215" width="10.5" height="60" fill="url(#gLeftG)"/><polygon points="383,246 390.5,238 390.5,272 383,265" fill="#f26b45" opacity="0.85" filter="url(#b2_5)"/><rect x="389.8" y="215" width="5.6" height="60" rx="0" fill="#a3123f" opacity="1" filter="url(#b0_6)"/><rect x="442.4" y="182" width="4.8" height="125" rx="0" fill="#ecf6ab" opacity="0.9" filter="url(#b1_3)"/><polygon points="443.0,182 446.6,182 445.6,205 444.8,220 444.0,205" fill="#a50e42" opacity="1" filter="url(#b0_5)"/><polygon points="444.8,225.5 446.4,236 444.8,247.5 443.2,236" fill="#b2183f" opacity="1" filter="url(#b0_5)"/><polygon points="444.8,267.5 446.3,285 446.5,306 443.1,306 443.3,285" fill="#a50e42" opacity="1" filter="url(#b0_5)"/><path d="M445,196 L451,193 L455,188 L458,197 L465,185" fill="none" stroke="#f3f8b0" stroke-width="6" stroke-linejoin="round" filter="url(#b1_5)"/><path d="M445,196 L451,193 L455,188 L458,197 L465,185" fill="none" stroke="#ee7d4b" stroke-width="3" stroke-linejoin="round" filter="url(#b0_6)"/><path d="M445,196 L451,194" fill="none" stroke="#a50e42" stroke-width="2.5" filter="url(#b0_5)"/><rect x="467.5" y="182" width="6.5" height="32" rx="0" fill="#eef7b0" opacity="0.7" filter="url(#b1_2)"/><polygon points="469.3,183 472.1,183 470.7,213" fill="#a50e42" opacity="1" filter="url(#b0_4)"/><rect x="492" y="200" width="11" height="104" rx="0" fill="#f3f8b0" opacity="1" filter="url(#b1_2)"/><rect x="494.9" y="203" width="5.6" height="100" rx="0" fill="#a3123f" opacity="1" filter="url(#b0_6)"/><rect x="501" y="200" width="8" height="104" rx="0" fill="#c6e8a0" opacity="0.8" filter="url(#b1_5)"/></g>
<rect x="380.5" y="182.2" width="128.0" height="122.0" fill="none" stroke="#000" stroke-width="1.2"/>
<line x1="380.5" y1="196.4" x2="383.3" y2="196.4" stroke="#000" stroke-width="1.1"/>
<text x="374.5" y="200.50" font-size="11.1" text-anchor="end">0.5</text>
<line x1="380.5" y1="243.3" x2="383.3" y2="243.3" stroke="#000" stroke-width="1.1"/>
<text x="374.5" y="247.40" font-size="11.1" text-anchor="end">0.0</text>
<line x1="380.5" y1="290.1" x2="383.3" y2="290.1" stroke="#000" stroke-width="1.1"/>
<text x="374.5" y="294.20" font-size="11.1" text-anchor="end">−0.5</text>
<line x1="392.9" y1="304.2" x2="392.9" y2="301.4" stroke="#000" stroke-width="1.1"/>
<text x="392.9" y="318.6" font-size="11.1" text-anchor="middle">−4</text>
<line x1="445.0" y1="304.2" x2="445.0" y2="301.4" stroke="#000" stroke-width="1.1"/>
<text x="445.0" y="318.6" font-size="11.1" text-anchor="middle">0</text>
<line x1="497.0" y1="304.2" x2="497.0" y2="301.4" stroke="#000" stroke-width="1.1"/>
<text x="497.0" y="318.6" font-size="11.1" text-anchor="middle">4</text>
<text x="386.5" y="192.5" font-size="10.8">1.50<tspan font-size="6.6" dy="-5.0" dx="-0.3">∘</tspan></text>
<rect x="475.5" y="173.3" width="33" height="5.1" fill="url(#spec)" stroke="#000" stroke-width="1"/>
<line x1="492.00" y1="178.4" x2="492.00" y2="176.3" stroke="#000" stroke-width="0.9"/>
<text x="421.2" y="177.0" font-size="10"><tspan font-style="italic">ρ</tspan><tspan font-style="italic" font-size="7" dy="1.5">xx</tspan><tspan dy="-1.5"> (kΩ)</tspan></text>
<text x="465.6" y="168.8" font-size="9.6">10<tspan font-size="6.8" dy="-4.2">0</tspan></text>
<text x="500.3" y="168.8" font-size="9.6">10<tspan font-size="6.8" dy="-4.2">2</tspan></text>
<g clip-path="url(#hc3)"><rect x="547.3" y="182.2" width="128.70000000000005" height="122.0" fill="#4580b9"/><polygon points="547,207 594,180 596,220 570,226 547,226" fill="#5853a3" opacity="1" filter="url(#b5)"/><ellipse cx="638" cy="266" rx="13" ry="22" fill="#5a51a2" opacity="1" filter="url(#b5)"/><polygon points="548,262 600,268 625,304 548,304" fill="#5255a4" opacity="1" filter="url(#b5)"/><ellipse cx="600" cy="250" rx="10" ry="8" fill="#4d6bb0" opacity="1" filter="url(#b4)"/><ellipse cx="655" cy="292" rx="12" ry="10" fill="#5356a4" opacity="1" filter="url(#b5)"/><ellipse cx="640" cy="192" rx="14" ry="8" fill="#4a78b5" opacity="0.8" filter="url(#b4)"/><polygon points="548,226 575,229 592,220 604,224 580,241 548,240" fill="#6cbfa8" opacity="0.95" filter="url(#b3)"/><line x1="600" y1="228" x2="645" y2="205" stroke="#5fb3aa" stroke-width="6" opacity="0.7" filter="url(#b4)"/><ellipse cx="630" cy="232" rx="10" ry="8" fill="#58a9b3" opacity="0.8" filter="url(#b4)"/><ellipse cx="668" cy="232" rx="7" ry="12" fill="#6cbfa8" opacity="0.8" filter="url(#b3)"/><line x1="578" y1="238" x2="602" y2="256" stroke="#5fb4a9" stroke-width="4" opacity="0.7" filter="url(#b3)"/><line x1="650.7" y1="236" x2="664" y2="274" stroke="#8ed2a6" stroke-width="3.5" opacity="0.9" filter="url(#b1_5)"/><line x1="650.7" y1="236" x2="664" y2="274" stroke="#66bfa8" stroke-width="8" opacity="0.6" filter="url(#b3)"/><ellipse cx="620.3" cy="236" rx="5" ry="9" fill="#95d4a6" opacity="0.9" filter="url(#b2_5)"/><line x1="613.5" y1="254" x2="637" y2="242" stroke="#8fc9b0" stroke-width="0.8" opacity="0.7" filter="url(#b0_3)"/><ellipse cx="613" cy="210" rx="9" ry="22" fill="#7ac8a7" opacity="0.9" filter="url(#b3)"/><ellipse cx="613.2" cy="204" rx="4.5" ry="13" fill="#dcf09e" opacity="1" filter="url(#b1_5)"/><rect x="611.8" y="193.5" width="2.7" height="21" rx="0" fill="#ee6a45" opacity="1" filter="url(#b0_5)"/><ellipse cx="665" cy="208" rx="10" ry="20" fill="#7ac8a7" opacity="0.9" filter="url(#b3)"/><ellipse cx="665.5" cy="208" rx="5" ry="13" fill="#dff19e" opacity="1" filter="url(#b1_5)"/><rect x="663.6" y="197.5" width="4" height="20.5" rx="1.5" fill="#ad1043" opacity="1" filter="url(#b0_5)"/><line x1="669.5" y1="197" x2="669.5" y2="218" stroke="#b4b4c4" stroke-width="1.4" opacity="0.9" filter="url(#b0_4)"/><ellipse cx="560.5" cy="248" rx="6" ry="14" fill="#6cc0a8" opacity="0.9" filter="url(#b2_5)"/><rect x="558.5" y="243" width="4.5" height="22" rx="0" fill="#d8efa0" opacity="1" filter="url(#b1)"/><rect x="558.8" y="235.8" width="3.8" height="8" rx="1" fill="#ea5c40" opacity="1" filter="url(#b0_5)"/><line x1="557.3" y1="236" x2="557.3" y2="246" stroke="#9d9dc0" stroke-width="1" opacity="0.9" filter="url(#b0_4)"/></g>
<rect x="547.3" y="182.2" width="128.70000000000005" height="122.0" fill="none" stroke="#000" stroke-width="1.2"/>
<line x1="547.3" y1="191.5" x2="550.0999999999999" y2="191.5" stroke="#000" stroke-width="1.1"/>
<text x="541.3" y="195.60" font-size="11.1" text-anchor="end">0.5</text>
<line x1="547.3" y1="243.9" x2="550.0999999999999" y2="243.9" stroke="#000" stroke-width="1.1"/>
<text x="541.3" y="248.00" font-size="11.1" text-anchor="end">0.0</text>
<line x1="547.3" y1="296.2" x2="550.0999999999999" y2="296.2" stroke="#000" stroke-width="1.1"/>
<text x="541.3" y="300.30" font-size="11.1" text-anchor="end">−0.5</text>
<line x1="557.4" y1="304.2" x2="557.4" y2="301.4" stroke="#000" stroke-width="1.1"/>
<text x="557.4" y="318.6" font-size="11.1" text-anchor="middle">−4</text>
<line x1="611.5" y1="304.2" x2="611.5" y2="301.4" stroke="#000" stroke-width="1.1"/>
<text x="611.5" y="318.6" font-size="11.1" text-anchor="middle">0</text>
<line x1="665.0" y1="304.2" x2="665.0" y2="301.4" stroke="#000" stroke-width="1.1"/>
<text x="665.0" y="318.6" font-size="11.1" text-anchor="middle">4</text>
<text x="552.0" y="192.5" font-size="10.8">1.15<tspan font-size="6.6" dy="-5.0" dx="-0.3">∘</tspan></text>
<rect x="643.0" y="173.3" width="33" height="5.1" fill="url(#spec)" stroke="#000" stroke-width="1"/>
<line x1="654.00" y1="178.4" x2="654.00" y2="176.3" stroke="#000" stroke-width="0.9"/>
<line x1="665.00" y1="178.4" x2="665.00" y2="176.3" stroke="#000" stroke-width="0.9"/>
<text x="588.7" y="177.0" font-size="10"><tspan font-style="italic">ρ</tspan><tspan font-style="italic" font-size="7" dy="1.5">xx</tspan><tspan dy="-1.5"> (kΩ)</tspan></text>
<text x="633.1" y="168.8" font-size="9.6">10<tspan font-size="6.8" dy="-4.2">−1</tspan></text>
<text x="667.8" y="168.8" font-size="9.6">10<tspan font-size="6.8" dy="-4.2">2</tspan></text>
<text transform="translate(9.6,243.5) rotate(-90)" font-size="11.2" text-anchor="middle"><tspan font-style="italic">D</tspan> (V/nm)</text>
<polygon points="41.3,385.6 95.8,343.7 95.8,360.4 41.3,402.3" fill="#f2c6cc"/>
<polygon points="41.3,405.9 95.8,363.99999999999994 95.8,399.09999999999997 41.3,441.0" fill="#f3e2cf"/>
<polygon points="90.60,396.00 164.20,416.20 122.80,455.10 45.40,431.20" fill="#5a2e9d"/>
<g clip-path="url(#lc1)"><circle r="0.1" fill="url(#dotD)" transform="matrix(71.950,21.730,-47.807,36.606,46.85,422.26)"/><circle r="0.1" fill="url(#dotD)" transform="matrix(73.285,22.610,-48.823,38.021,45.74,430.93)"/><circle r="0.1" fill="url(#dotD)" transform="matrix(70.828,20.524,-45.270,34.664,62.96,409.92)"/><circle r="0.1" fill="url(#dotD)" transform="matrix(72.123,21.332,-46.184,35.966,62.19,418.12)"/><circle r="0.1" fill="url(#dotD)" transform="matrix(73.465,22.188,-47.135,37.344,61.39,426.65)"/><circle r="0.1" fill="url(#dotD)" transform="matrix(74.859,23.095,-48.127,38.803,60.55,435.50)"/><circle r="0.1" fill="url(#dotD)" transform="matrix(69.723,19.412,-42.930,32.872,78.23,398.22)"/><circle r="0.1" fill="url(#dotD)" transform="matrix(70.978,20.157,-43.754,34.074,77.76,406.00)"/><circle r="0.1" fill="url(#dotD)" transform="matrix(72.279,20.944,-44.609,35.343,77.27,414.06)"/><circle r="0.1" fill="url(#dotD)" transform="matrix(73.628,21.777,-45.499,36.684,76.76,422.44)"/><circle r="0.1" fill="url(#dotD)" transform="matrix(75.029,22.660,-46.425,38.105,76.24,431.13)"/><circle r="0.1" fill="url(#dotD)" transform="matrix(76.484,23.597,-47.389,39.610,75.69,440.17)"/><circle r="0.1" fill="url(#dotD)" transform="matrix(69.854,19.073,-41.510,32.326,92.52,394.50)"/><circle r="0.1" fill="url(#dotD)" transform="matrix(71.113,19.799,-42.281,33.498,92.32,402.14)"/><circle r="0.1" fill="url(#dotD)" transform="matrix(72.420,20.566,-43.081,34.735,92.10,410.07)"/><circle r="0.1" fill="url(#dotD)" transform="matrix(73.775,21.378,-43.911,36.042,91.88,418.30)"/><circle r="0.1" fill="url(#dotD)" transform="matrix(75.181,22.237,-44.775,37.425,91.64,426.84)"/><circle r="0.1" fill="url(#dotD)" transform="matrix(76.643,23.148,-45.673,38.889,91.40,435.71)"/><circle r="0.1" fill="url(#dotD)" transform="matrix(78.162,24.114,-46.607,40.443,91.15,444.94)"/><circle r="0.1" fill="url(#dotD)" transform="matrix(71.235,19.450,-40.850,32.936,106.63,398.35)"/><circle r="0.1" fill="url(#dotD)" transform="matrix(72.546,20.198,-41.597,34.142,106.68,406.14)"/><circle r="0.1" fill="url(#dotD)" transform="matrix(73.906,20.988,-42.371,35.416,106.73,414.23)"/><circle r="0.1" fill="url(#dotD)" transform="matrix(75.317,21.825,-43.175,36.762,106.79,422.62)"/><circle r="0.1" fill="url(#dotD)" transform="matrix(76.784,22.711,-44.009,38.188,106.84,431.33)"/><circle r="0.1" fill="url(#dotD)" transform="matrix(78.309,23.651,-44.877,39.699,106.90,440.39)"/><circle r="0.1" fill="url(#dotD)" transform="matrix(79.896,24.650,-45.780,41.303,106.96,449.82)"/><circle r="0.1" fill="url(#dotD)" transform="matrix(72.658,19.839,-40.156,33.564,121.02,402.28)"/><circle r="0.1" fill="url(#dotD)" transform="matrix(74.022,20.609,-40.876,34.805,121.34,410.22)"/><circle r="0.1" fill="url(#dotD)" transform="matrix(75.438,21.423,-41.623,36.117,121.67,418.47)"/><circle r="0.1" fill="url(#dotD)" transform="matrix(76.909,22.286,-42.397,37.506,122.01,427.03)"/><circle r="0.1" fill="url(#dotD)" transform="matrix(78.439,23.200,-43.201,38.976,122.36,435.92)"/><circle r="0.1" fill="url(#dotD)" transform="matrix(80.031,24.171,-44.036,40.536,122.73,445.17)"/><circle r="0.1" fill="url(#dotD)" transform="matrix(81.689,25.203,-44.903,42.192,123.11,454.81)"/><circle r="0.1" fill="url(#dotD)" transform="matrix(74.124,20.239,-39.425,34.210,135.70,406.29)"/><circle r="0.1" fill="url(#dotD)" transform="matrix(75.543,21.032,-40.117,35.489,136.29,414.39)"/><circle r="0.1" fill="url(#dotD)" transform="matrix(77.018,21.872,-40.834,36.841,136.91,422.80)"/><circle r="0.1" fill="url(#dotD)" transform="matrix(78.552,22.762,-41.577,38.272,137.55,431.53)"/><circle r="0.1" fill="url(#dotD)" transform="matrix(80.148,23.706,-42.347,39.790,138.22,440.61)"/><circle r="0.1" fill="url(#dotD)" transform="matrix(81.810,24.708,-43.146,41.400,138.91,450.06)"/><circle r="0.1" fill="url(#dotD)" transform="matrix(75.634,20.651,-38.657,34.876,150.67,410.38)"/><circle r="0.1" fill="url(#dotD)" transform="matrix(77.112,21.469,-39.318,36.193,151.56,418.64)"/><circle r="0.1" fill="url(#dotD)" transform="matrix(78.649,22.335,-40.003,37.587,152.48,427.22)"/><circle r="0.1" fill="url(#dotD)" transform="matrix(80.248,23.253,-40.711,39.063,153.43,436.13)"/><circle r="0.1" fill="url(#dotD)" transform="matrix(77.191,21.077,-37.848,35.562,165.96,414.55)"/><circle r="0.1" fill="url(#dotD)" transform="matrix(78.730,21.920,-38.477,36.920,167.14,422.98)"/></g>
<polygon points="90.60,396.00 164.20,416.20 122.80,455.10 45.40,431.20" fill="none" stroke="#222" stroke-width="0.7" stroke-linejoin="miter"/>
<polygon points="90.60,376.15 164.55,396.35 122.80,435.25 45.00,411.35" fill="#f3f3f9"/>
<g clip-path="url(#lc2)"><circle r="0.095" fill="url(#dotL)" transform="matrix(72.336,21.736,-48.243,36.615,46.49,402.40)"/><circle r="0.095" fill="url(#dotL)" transform="matrix(73.681,22.615,-49.274,38.036,45.34,411.08)"/><circle r="0.095" fill="url(#dotL)" transform="matrix(71.198,20.529,-45.671,34.663,62.75,390.06)"/><circle r="0.095" fill="url(#dotL)" transform="matrix(72.501,21.337,-46.597,35.970,61.94,398.27)"/><circle r="0.095" fill="url(#dotL)" transform="matrix(73.853,22.192,-47.562,37.353,61.11,406.80)"/><circle r="0.095" fill="url(#dotL)" transform="matrix(75.256,23.099,-48.567,38.818,60.24,415.66)"/><circle r="0.095" fill="url(#dotL)" transform="matrix(70.078,19.417,-43.299,32.863,78.15,378.37)"/><circle r="0.095" fill="url(#dotL)" transform="matrix(71.340,20.161,-44.133,34.068,77.65,386.15)"/><circle r="0.095" fill="url(#dotL)" transform="matrix(72.650,20.948,-45.001,35.341,77.13,394.21)"/><circle r="0.095" fill="url(#dotL)" transform="matrix(74.008,21.780,-45.903,36.688,76.59,402.58)"/><circle r="0.095" fill="url(#dotL)" transform="matrix(75.418,22.662,-46.841,38.114,76.03,411.28)"/><circle r="0.095" fill="url(#dotL)" transform="matrix(76.883,23.598,-47.819,39.625,75.45,420.32)"/><circle r="0.095" fill="url(#dotL)" transform="matrix(70.201,19.077,-41.860,32.313,92.54,374.65)"/><circle r="0.095" fill="url(#dotL)" transform="matrix(71.469,19.802,-42.641,33.488,92.31,382.29)"/><circle r="0.095" fill="url(#dotL)" transform="matrix(72.783,20.569,-43.451,34.729,92.06,390.22)"/><circle r="0.095" fill="url(#dotL)" transform="matrix(74.147,21.379,-44.293,36.041,91.81,398.44)"/><circle r="0.095" fill="url(#dotL)" transform="matrix(75.563,22.238,-45.169,37.429,91.55,406.98)"/><circle r="0.095" fill="url(#dotL)" transform="matrix(77.033,23.148,-46.079,38.899,91.28,415.86)"/><circle r="0.095" fill="url(#dotL)" transform="matrix(78.563,24.113,-47.027,40.458,90.99,425.10)"/><circle r="0.095" fill="url(#dotL)" transform="matrix(71.583,19.453,-41.191,32.923,106.72,378.50)"/><circle r="0.095" fill="url(#dotL)" transform="matrix(72.901,20.200,-41.948,34.132,106.74,386.29)"/><circle r="0.095" fill="url(#dotL)" transform="matrix(74.270,20.989,-42.732,35.410,106.77,394.37)"/><circle r="0.095" fill="url(#dotL)" transform="matrix(75.690,21.824,-43.547,36.761,106.79,402.76)"/><circle r="0.095" fill="url(#dotL)" transform="matrix(77.166,22.710,-44.393,38.192,106.82,411.48)"/><circle r="0.095" fill="url(#dotL)" transform="matrix(78.701,23.649,-45.273,39.709,106.85,420.54)"/><circle r="0.095" fill="url(#dotL)" transform="matrix(80.298,24.646,-46.188,41.319,106.88,429.97)"/><circle r="0.095" fill="url(#dotL)" transform="matrix(73.006,19.840,-40.488,33.550,121.18,382.43)"/><circle r="0.095" fill="url(#dotL)" transform="matrix(74.378,20.609,-41.218,34.795,121.47,390.37)"/><circle r="0.095" fill="url(#dotL)" transform="matrix(75.802,21.422,-41.974,36.111,121.77,398.61)"/><circle r="0.095" fill="url(#dotL)" transform="matrix(77.283,22.283,-42.759,37.504,122.09,407.17)"/><circle r="0.095" fill="url(#dotL)" transform="matrix(78.822,23.197,-43.574,38.980,122.42,416.07)"/><circle r="0.095" fill="url(#dotL)" transform="matrix(80.424,24.166,-44.420,40.546,122.76,425.32)"/><circle r="0.095" fill="url(#dotL)" transform="matrix(82.092,25.197,-45.300,42.208,123.12,434.96)"/><circle r="0.095" fill="url(#dotL)" transform="matrix(74.472,20.238,-39.748,34.196,135.92,386.44)"/><circle r="0.095" fill="url(#dotL)" transform="matrix(75.899,21.030,-40.449,35.478,136.50,394.54)"/><circle r="0.095" fill="url(#dotL)" transform="matrix(77.383,21.869,-41.176,36.835,137.09,402.94)"/><circle r="0.095" fill="url(#dotL)" transform="matrix(78.926,22.757,-41.928,38.271,137.71,411.68)"/><circle r="0.095" fill="url(#dotL)" transform="matrix(80.531,23.700,-42.709,39.794,138.35,420.76)"/><circle r="0.095" fill="url(#dotL)" transform="matrix(82.204,24.701,-43.519,41.409,139.02,430.21)"/><circle r="0.095" fill="url(#dotL)" transform="matrix(75.982,20.649,-38.970,34.862,150.97,390.53)"/><circle r="0.095" fill="url(#dotL)" transform="matrix(77.468,21.465,-39.640,36.183,151.83,398.79)"/><circle r="0.095" fill="url(#dotL)" transform="matrix(79.014,22.330,-40.334,37.581,152.73,407.36)"/><circle r="0.095" fill="url(#dotL)" transform="matrix(80.622,23.246,-41.052,39.062,153.66,416.28)"/><circle r="0.095" fill="url(#dotL)" transform="matrix(77.539,21.072,-38.152,35.547,166.32,394.70)"/><circle r="0.095" fill="url(#dotL)" transform="matrix(79.086,21.913,-38.789,36.909,167.49,403.12)"/></g>
<polygon points="90.60,376.15 164.55,396.35 122.80,435.25 45.00,411.35" fill="none" stroke="#222" stroke-width="0.7" stroke-linejoin="miter"/>
<polygon points="90.60,356.30 164.90,376.50 122.80,415.40 44.60,391.50" fill="#f3f3f9"/>
<g clip-path="url(#lc3)"><circle r="0.095" fill="url(#dotL)" transform="matrix(72.722,21.742,-48.680,36.624,46.13,382.55)"/><circle r="0.095" fill="url(#dotL)" transform="matrix(74.076,22.620,-49.725,38.050,44.95,391.23)"/><circle r="0.095" fill="url(#dotL)" transform="matrix(71.567,20.534,-46.072,34.662,62.53,370.21)"/><circle r="0.095" fill="url(#dotL)" transform="matrix(72.880,21.341,-47.011,35.973,61.70,378.42)"/><circle r="0.095" fill="url(#dotL)" transform="matrix(74.241,22.196,-47.989,37.362,60.82,386.94)"/><circle r="0.095" fill="url(#dotL)" transform="matrix(75.653,23.102,-49.008,38.833,59.92,395.81)"/><circle r="0.095" fill="url(#dotL)" transform="matrix(70.432,19.422,-43.668,32.853,78.07,358.52)"/><circle r="0.095" fill="url(#dotL)" transform="matrix(71.703,20.165,-44.513,34.062,77.54,366.29)"/><circle r="0.095" fill="url(#dotL)" transform="matrix(73.021,20.951,-45.392,35.340,76.99,374.36)"/><circle r="0.095" fill="url(#dotL)" transform="matrix(74.388,21.783,-46.306,36.692,76.42,382.73)"/><circle r="0.095" fill="url(#dotL)" transform="matrix(75.807,22.664,-47.258,38.123,75.83,391.43)"/><circle r="0.095" fill="url(#dotL)" transform="matrix(77.282,23.599,-48.250,39.640,75.21,400.48)"/><circle r="0.095" fill="url(#dotL)" transform="matrix(70.548,19.082,-42.210,32.300,92.56,354.80)"/><circle r="0.095" fill="url(#dotL)" transform="matrix(71.824,19.806,-43.001,33.478,92.30,362.44)"/><circle r="0.095" fill="url(#dotL)" transform="matrix(73.146,20.571,-43.822,34.723,92.03,370.37)"/><circle r="0.095" fill="url(#dotL)" transform="matrix(74.519,21.381,-44.675,36.039,91.75,378.59)"/><circle r="0.095" fill="url(#dotL)" transform="matrix(75.944,22.238,-45.562,37.432,91.45,387.13)"/><circle r="0.095" fill="url(#dotL)" transform="matrix(77.424,23.148,-46.485,38.908,91.15,396.01)"/><circle r="0.095" fill="url(#dotL)" transform="matrix(78.963,24.113,-47.446,40.474,90.84,405.25)"/><circle r="0.095" fill="url(#dotL)" transform="matrix(71.930,19.456,-41.532,32.909,106.80,358.66)"/><circle r="0.095" fill="url(#dotL)" transform="matrix(73.257,20.201,-42.298,34.122,106.80,366.44)"/><circle r="0.095" fill="url(#dotL)" transform="matrix(74.634,20.990,-43.093,35.404,106.80,374.52)"/><circle r="0.095" fill="url(#dotL)" transform="matrix(76.063,21.824,-43.919,36.760,106.80,382.91)"/><circle r="0.095" fill="url(#dotL)" transform="matrix(77.549,22.708,-44.777,38.196,106.80,391.63)"/><circle r="0.095" fill="url(#dotL)" transform="matrix(79.093,23.647,-45.668,39.719,106.80,400.69)"/><circle r="0.095" fill="url(#dotL)" transform="matrix(80.700,24.643,-46.597,41.335,106.80,410.12)"/><circle r="0.095" fill="url(#dotL)" transform="matrix(73.354,19.841,-40.820,33.536,121.33,362.59)"/><circle r="0.095" fill="url(#dotL)" transform="matrix(74.734,20.609,-41.559,34.785,121.60,370.52)"/><circle r="0.095" fill="url(#dotL)" transform="matrix(76.167,21.421,-42.326,36.106,121.88,378.76)"/><circle r="0.095" fill="url(#dotL)" transform="matrix(77.656,22.281,-43.121,37.503,122.17,387.32)"/><circle r="0.095" fill="url(#dotL)" transform="matrix(79.205,23.193,-43.947,38.984,122.48,396.22)"/><circle r="0.095" fill="url(#dotL)" transform="matrix(80.817,24.162,-44.805,40.555,122.79,405.47)"/><circle r="0.095" fill="url(#dotL)" transform="matrix(82.495,25.191,-45.697,42.224,123.12,415.11)"/><circle r="0.095" fill="url(#dotL)" transform="matrix(74.820,20.237,-40.071,34.182,136.15,366.59)"/><circle r="0.095" fill="url(#dotL)" transform="matrix(76.256,21.028,-40.781,35.468,136.70,374.69)"/><circle r="0.095" fill="url(#dotL)" transform="matrix(77.748,21.866,-41.517,36.829,137.27,383.09)"/><circle r="0.095" fill="url(#dotL)" transform="matrix(79.300,22.753,-42.280,38.270,137.87,391.82)"/><circle r="0.095" fill="url(#dotL)" transform="matrix(80.915,23.694,-43.071,39.797,138.49,400.91)"/><circle r="0.095" fill="url(#dotL)" transform="matrix(82.597,24.694,-43.893,41.419,139.13,410.36)"/><circle r="0.095" fill="url(#dotL)" transform="matrix(76.330,20.646,-39.283,34.847,151.26,370.68)"/><circle r="0.095" fill="url(#dotL)" transform="matrix(77.825,21.461,-39.963,36.172,152.11,378.94)"/><circle r="0.095" fill="url(#dotL)" transform="matrix(79.379,22.324,-40.665,37.574,152.98,387.51)"/><circle r="0.095" fill="url(#dotL)" transform="matrix(80.996,23.240,-41.393,39.060,153.90,396.42)"/><circle r="0.095" fill="url(#dotL)" transform="matrix(77.887,21.067,-38.456,35.533,166.68,374.85)"/><circle r="0.095" fill="url(#dotL)" transform="matrix(79.443,21.907,-39.101,36.898,167.83,383.27)"/></g>
<polygon points="90.60,356.30 164.90,376.50 122.80,415.40 44.60,391.50" fill="none" stroke="#222" stroke-width="0.7" stroke-linejoin="miter"/>
<polygon points="216.0,379.0 269.8,339.5 269.8,356.0 216.0,395.5" fill="#f2c6cc"/>
<polygon points="216.0,398.0 269.8,358.5 269.8,400.0 216.0,439.5" fill="#f3e2cf"/>
<polygon points="265.20,397.90 338.25,417.20 297.00,455.70 220.10,432.70" fill="#f7f6fb"/>
<polygon points="265.20,397.90 338.25,417.20 297.00,455.70 220.10,432.70" fill="none" stroke="#222" stroke-width="0.7" stroke-linejoin="miter"/>
<polygon points="265.20,382.30 338.60,401.60 297.00,440.10 219.70,417.10" fill="#5a2e9d"/>
<g clip-path="url(#lc5)"><circle r="0.1" fill="url(#dotD)" transform="matrix(71.731,20.853,-48.195,36.237,221.24,408.31)"/><circle r="0.1" fill="url(#dotD)" transform="matrix(73.094,21.729,-49.255,37.672,220.04,416.84)"/><circle r="0.1" fill="url(#dotD)" transform="matrix(70.584,19.647,-45.566,34.260,237.48,396.10)"/><circle r="0.1" fill="url(#dotD)" transform="matrix(71.905,20.450,-46.517,35.578,236.63,404.16)"/><circle r="0.1" fill="url(#dotD)" transform="matrix(73.277,21.302,-47.509,36.975,235.74,412.52)"/><circle r="0.1" fill="url(#dotD)" transform="matrix(74.701,22.207,-48.543,38.456,234.82,421.23)"/><circle r="0.1" fill="url(#dotD)" transform="matrix(69.455,18.539,-43.147,32.441,252.83,384.56)"/><circle r="0.1" fill="url(#dotD)" transform="matrix(70.734,19.277,-44.001,33.654,252.30,392.17)"/><circle r="0.1" fill="url(#dotD)" transform="matrix(72.062,20.058,-44.890,34.937,251.74,400.07)"/><circle r="0.1" fill="url(#dotD)" transform="matrix(73.440,20.887,-45.816,36.296,251.16,408.29)"/><circle r="0.1" fill="url(#dotD)" transform="matrix(74.873,21.766,-46.780,37.736,250.56,416.83)"/><circle r="0.1" fill="url(#dotD)" transform="matrix(76.362,22.700,-47.786,39.265,249.93,425.72)"/><circle r="0.1" fill="url(#dotD)" transform="matrix(69.584,18.198,-41.684,31.881,267.13,380.82)"/><circle r="0.1" fill="url(#dotD)" transform="matrix(70.869,18.916,-42.483,33.063,266.87,388.30)"/><circle r="0.1" fill="url(#dotD)" transform="matrix(72.203,19.677,-43.313,34.313,266.59,396.06)"/><circle r="0.1" fill="url(#dotD)" transform="matrix(73.587,20.483,-44.176,35.635,266.30,404.13)"/><circle r="0.1" fill="url(#dotD)" transform="matrix(75.025,21.337,-45.074,37.037,266.00,412.51)"/><circle r="0.1" fill="url(#dotD)" transform="matrix(76.521,22.245,-46.009,38.523,265.69,421.23)"/><circle r="0.1" fill="url(#dotD)" transform="matrix(78.078,23.210,-46.984,40.102,265.37,430.31)"/><circle r="0.1" fill="url(#dotD)" transform="matrix(70.990,18.565,-41.009,32.488,281.19,384.50)"/><circle r="0.1" fill="url(#dotD)" transform="matrix(72.328,19.306,-41.782,33.705,281.19,392.12)"/><circle r="0.1" fill="url(#dotD)" transform="matrix(73.717,20.090,-42.586,34.992,281.18,400.04)"/><circle r="0.1" fill="url(#dotD)" transform="matrix(75.161,20.921,-43.420,36.355,281.18,408.27)"/><circle r="0.1" fill="url(#dotD)" transform="matrix(76.662,21.803,-44.288,37.801,281.17,416.82)"/><circle r="0.1" fill="url(#dotD)" transform="matrix(78.225,22.741,-45.191,39.335,281.17,425.73)"/><circle r="0.1" fill="url(#dotD)" transform="matrix(79.853,23.738,-46.132,40.966,281.16,435.01)"/><circle r="0.1" fill="url(#dotD)" transform="matrix(72.438,18.944,-40.298,33.112,295.53,388.25)"/><circle r="0.1" fill="url(#dotD)" transform="matrix(73.832,19.707,-41.044,34.366,295.80,396.02)"/><circle r="0.1" fill="url(#dotD)" transform="matrix(75.280,20.516,-41.818,35.693,296.08,404.10)"/><circle r="0.1" fill="url(#dotD)" transform="matrix(76.786,21.373,-42.622,37.099,296.37,412.50)"/><circle r="0.1" fill="url(#dotD)" transform="matrix(78.354,22.284,-43.457,38.590,296.67,421.23)"/><circle r="0.1" fill="url(#dotD)" transform="matrix(79.987,23.253,-44.326,40.174,296.99,430.33)"/><circle r="0.1" fill="url(#dotD)" transform="matrix(81.689,24.284,-45.230,41.859,297.32,439.81)"/><circle r="0.1" fill="url(#dotD)" transform="matrix(73.931,19.335,-39.549,33.756,310.17,392.08)"/><circle r="0.1" fill="url(#dotD)" transform="matrix(75.383,20.121,-40.265,35.047,310.72,400.01)"/><circle r="0.1" fill="url(#dotD)" transform="matrix(76.893,20.955,-41.008,36.415,311.30,408.25)"/><circle r="0.1" fill="url(#dotD)" transform="matrix(78.464,21.840,-41.778,37.866,311.89,416.82)"/><circle r="0.1" fill="url(#dotD)" transform="matrix(80.101,22.781,-42.578,39.405,312.52,425.74)"/><circle r="0.1" fill="url(#dotD)" transform="matrix(81.808,23.782,-43.409,41.042,313.17,435.03)"/><circle r="0.1" fill="url(#dotD)" transform="matrix(75.471,19.737,-38.760,34.419,325.11,395.98)"/><circle r="0.1" fill="url(#dotD)" transform="matrix(76.984,20.548,-39.444,35.750,325.96,404.07)"/><circle r="0.1" fill="url(#dotD)" transform="matrix(78.558,21.409,-40.153,37.161,326.84,412.48)"/><circle r="0.1" fill="url(#dotD)" transform="matrix(80.198,22.323,-40.887,38.657,327.76,421.23)"/><circle r="0.1" fill="url(#dotD)" transform="matrix(77.059,20.153,-37.929,35.103,340.36,399.97)"/><circle r="0.1" fill="url(#dotD)" transform="matrix(78.636,20.989,-38.579,36.475,341.52,408.23)"/></g>
<polygon points="265.20,382.30 338.60,401.60 297.00,440.10 219.70,417.10" fill="none" stroke="#222" stroke-width="0.7" stroke-linejoin="miter"/>
<polygon points="265.20,366.70 338.95,386.00 297.00,424.50 219.30,401.50" fill="#f3f3f9"/>
<g clip-path="url(#lc6)"><circle r="0.095" fill="url(#dotL)" transform="matrix(72.116,20.858,-48.632,36.245,220.88,392.71)"/><circle r="0.095" fill="url(#dotL)" transform="matrix(73.489,21.734,-49.707,37.687,219.65,401.24)"/><circle r="0.095" fill="url(#dotL)" transform="matrix(70.952,19.652,-45.967,34.259,237.26,380.50)"/><circle r="0.095" fill="url(#dotL)" transform="matrix(72.282,20.454,-46.931,35.582,236.38,388.55)"/><circle r="0.095" fill="url(#dotL)" transform="matrix(73.663,21.306,-47.936,36.984,235.46,396.92)"/><circle r="0.095" fill="url(#dotL)" transform="matrix(75.098,22.210,-48.984,38.471,234.50,405.63)"/><circle r="0.095" fill="url(#dotL)" transform="matrix(69.808,18.544,-43.515,32.431,252.75,368.95)"/><circle r="0.095" fill="url(#dotL)" transform="matrix(71.096,19.281,-44.381,33.648,252.19,376.57)"/><circle r="0.095" fill="url(#dotL)" transform="matrix(72.432,20.061,-45.282,34.936,251.60,384.47)"/><circle r="0.095" fill="url(#dotL)" transform="matrix(73.820,20.889,-46.220,36.300,250.99,392.69)"/><circle r="0.095" fill="url(#dotL)" transform="matrix(75.261,21.768,-47.198,37.746,250.35,401.23)"/><circle r="0.095" fill="url(#dotL)" transform="matrix(76.760,22.701,-48.218,39.281,249.69,410.12)"/><circle r="0.095" fill="url(#dotL)" transform="matrix(69.931,18.202,-42.033,31.868,267.15,365.22)"/><circle r="0.095" fill="url(#dotL)" transform="matrix(71.224,18.920,-42.842,33.054,266.86,372.70)"/><circle r="0.095" fill="url(#dotL)" transform="matrix(72.565,19.679,-43.683,34.307,266.55,380.46)"/><circle r="0.095" fill="url(#dotL)" transform="matrix(73.959,20.484,-44.557,35.634,266.24,388.53)"/><circle r="0.095" fill="url(#dotL)" transform="matrix(75.406,21.338,-45.468,37.040,265.91,396.91)"/><circle r="0.095" fill="url(#dotL)" transform="matrix(76.912,22.245,-46.416,38.532,265.57,405.63)"/><circle r="0.095" fill="url(#dotL)" transform="matrix(78.479,23.210,-47.404,40.117,265.21,414.71)"/><circle r="0.095" fill="url(#dotL)" transform="matrix(71.337,18.568,-41.349,32.474,281.28,368.90)"/><circle r="0.095" fill="url(#dotL)" transform="matrix(72.683,19.307,-42.133,33.695,281.25,376.52)"/><circle r="0.095" fill="url(#dotL)" transform="matrix(74.081,20.090,-42.946,34.986,281.22,384.44)"/><circle r="0.095" fill="url(#dotL)" transform="matrix(75.534,20.921,-43.792,36.354,281.19,392.67)"/><circle r="0.095" fill="url(#dotL)" transform="matrix(77.045,21.802,-44.672,37.805,281.15,401.22)"/><circle r="0.095" fill="url(#dotL)" transform="matrix(78.617,22.738,-45.588,39.345,281.12,410.13)"/><circle r="0.095" fill="url(#dotL)" transform="matrix(80.256,23.735,-46.542,40.982,281.08,419.41)"/><circle r="0.095" fill="url(#dotL)" transform="matrix(72.786,18.945,-40.629,33.099,295.69,372.65)"/><circle r="0.095" fill="url(#dotL)" transform="matrix(74.188,19.707,-41.385,34.356,295.93,380.42)"/><circle r="0.095" fill="url(#dotL)" transform="matrix(75.645,20.514,-42.169,35.687,296.19,388.50)"/><circle r="0.095" fill="url(#dotL)" transform="matrix(77.160,21.371,-42.984,37.097,296.45,396.89)"/><circle r="0.095" fill="url(#dotL)" transform="matrix(78.737,22.281,-43.830,38.594,296.73,405.63)"/><circle r="0.095" fill="url(#dotL)" transform="matrix(80.380,23.248,-44.711,40.184,297.02,414.73)"/><circle r="0.095" fill="url(#dotL)" transform="matrix(82.093,24.278,-45.628,41.875,297.32,424.21)"/><circle r="0.095" fill="url(#dotL)" transform="matrix(74.280,19.334,-39.871,33.742,310.39,376.48)"/><circle r="0.095" fill="url(#dotL)" transform="matrix(75.740,20.119,-40.597,35.037,310.92,384.41)"/><circle r="0.095" fill="url(#dotL)" transform="matrix(77.258,20.952,-41.349,36.409,311.48,392.64)"/><circle r="0.095" fill="url(#dotL)" transform="matrix(78.839,21.836,-42.130,37.864,312.05,401.21)"/><circle r="0.095" fill="url(#dotL)" transform="matrix(80.486,22.776,-42.940,39.409,312.65,410.14)"/><circle r="0.095" fill="url(#dotL)" transform="matrix(82.203,23.775,-43.783,41.051,313.28,419.43)"/><circle r="0.095" fill="url(#dotL)" transform="matrix(75.820,19.735,-39.073,34.405,325.40,380.38)"/><circle r="0.095" fill="url(#dotL)" transform="matrix(77.341,20.545,-39.766,35.740,326.23,388.47)"/><circle r="0.095" fill="url(#dotL)" transform="matrix(78.924,21.404,-40.484,37.154,327.09,396.88)"/><circle r="0.095" fill="url(#dotL)" transform="matrix(80.574,22.316,-41.228,38.656,327.99,405.63)"/><circle r="0.095" fill="url(#dotL)" transform="matrix(77.408,20.148,-38.232,35.088,340.72,384.37)"/><circle r="0.095" fill="url(#dotL)" transform="matrix(78.993,20.984,-38.891,36.464,341.86,392.62)"/></g>
<polygon points="265.20,366.70 338.95,386.00 297.00,424.50 219.30,401.50" fill="none" stroke="#222" stroke-width="0.7" stroke-linejoin="miter"/>
<polygon points="265.20,351.10 339.30,370.40 297.00,408.90 218.90,385.90" fill="#f3f3f9"/>
<g clip-path="url(#lc7)"><circle r="0.095" fill="url(#dotL)" transform="matrix(72.500,20.863,-49.070,36.253,220.52,377.10)"/><circle r="0.095" fill="url(#dotL)" transform="matrix(73.883,21.738,-50.159,37.701,219.25,385.64)"/><circle r="0.095" fill="url(#dotL)" transform="matrix(71.321,19.656,-46.368,34.257,237.05,364.90)"/><circle r="0.095" fill="url(#dotL)" transform="matrix(72.660,20.458,-47.345,35.585,236.13,372.95)"/><circle r="0.095" fill="url(#dotL)" transform="matrix(74.050,21.309,-48.363,36.992,235.18,381.32)"/><circle r="0.095" fill="url(#dotL)" transform="matrix(75.494,22.213,-49.426,38.485,234.19,390.03)"/><circle r="0.095" fill="url(#dotL)" transform="matrix(70.161,18.548,-43.883,32.422,252.67,353.35)"/><circle r="0.095" fill="url(#dotL)" transform="matrix(71.457,19.285,-44.760,33.643,252.08,360.96)"/><circle r="0.095" fill="url(#dotL)" transform="matrix(72.802,20.065,-45.673,34.935,251.46,368.87)"/><circle r="0.095" fill="url(#dotL)" transform="matrix(74.199,20.892,-46.624,36.303,250.82,377.08)"/><circle r="0.095" fill="url(#dotL)" transform="matrix(75.650,21.770,-47.615,37.755,250.15,385.63)"/><circle r="0.095" fill="url(#dotL)" transform="matrix(77.159,22.702,-48.649,39.296,249.45,394.52)"/><circle r="0.095" fill="url(#dotL)" transform="matrix(70.277,18.206,-42.382,31.855,267.17,349.62)"/><circle r="0.095" fill="url(#dotL)" transform="matrix(71.578,18.923,-43.201,33.044,266.85,357.10)"/><circle r="0.095" fill="url(#dotL)" transform="matrix(72.928,19.682,-44.053,34.302,266.52,364.86)"/><circle r="0.095" fill="url(#dotL)" transform="matrix(74.330,20.486,-44.939,35.633,266.17,372.92)"/><circle r="0.095" fill="url(#dotL)" transform="matrix(75.787,21.339,-45.862,37.044,265.81,381.31)"/><circle r="0.095" fill="url(#dotL)" transform="matrix(77.302,22.245,-46.823,38.542,265.44,390.03)"/><circle r="0.095" fill="url(#dotL)" transform="matrix(78.880,23.209,-47.825,40.132,265.05,399.11)"/><circle r="0.095" fill="url(#dotL)" transform="matrix(71.684,18.571,-41.689,32.461,281.36,353.30)"/><circle r="0.095" fill="url(#dotL)" transform="matrix(73.038,19.309,-42.483,33.685,281.31,360.92)"/><circle r="0.095" fill="url(#dotL)" transform="matrix(74.445,20.091,-43.307,34.981,281.25,368.84)"/><circle r="0.095" fill="url(#dotL)" transform="matrix(75.907,20.920,-44.164,36.353,281.19,377.06)"/><circle r="0.095" fill="url(#dotL)" transform="matrix(77.427,21.801,-45.056,37.809,281.13,385.62)"/><circle r="0.095" fill="url(#dotL)" transform="matrix(79.010,22.736,-45.984,39.354,281.07,394.53)"/><circle r="0.095" fill="url(#dotL)" transform="matrix(80.658,23.732,-46.951,40.997,281.01,403.81)"/><circle r="0.095" fill="url(#dotL)" transform="matrix(73.134,18.946,-40.960,33.085,295.84,357.05)"/><circle r="0.095" fill="url(#dotL)" transform="matrix(74.544,19.707,-41.726,34.346,296.06,364.82)"/><circle r="0.095" fill="url(#dotL)" transform="matrix(76.010,20.513,-42.520,35.681,296.30,372.90)"/><circle r="0.095" fill="url(#dotL)" transform="matrix(77.534,21.369,-43.346,37.096,296.54,381.29)"/><circle r="0.095" fill="url(#dotL)" transform="matrix(79.121,22.278,-44.204,38.598,296.79,390.03)"/><circle r="0.095" fill="url(#dotL)" transform="matrix(80.774,23.244,-45.096,40.194,297.05,399.13)"/><circle r="0.095" fill="url(#dotL)" transform="matrix(82.498,24.273,-46.026,41.891,297.32,408.61)"/><circle r="0.095" fill="url(#dotL)" transform="matrix(74.628,19.333,-40.193,33.728,310.62,360.88)"/><circle r="0.095" fill="url(#dotL)" transform="matrix(76.096,20.117,-40.928,35.027,311.13,368.80)"/><circle r="0.095" fill="url(#dotL)" transform="matrix(77.624,20.949,-41.690,36.403,311.66,377.04)"/><circle r="0.095" fill="url(#dotL)" transform="matrix(79.214,21.832,-42.481,37.863,312.21,385.61)"/><circle r="0.095" fill="url(#dotL)" transform="matrix(80.871,22.770,-43.303,39.413,312.79,394.53)"/><circle r="0.095" fill="url(#dotL)" transform="matrix(82.598,23.769,-44.157,41.061,313.39,403.83)"/><circle r="0.095" fill="url(#dotL)" transform="matrix(76.168,19.732,-39.385,34.391,325.70,364.79)"/><circle r="0.095" fill="url(#dotL)" transform="matrix(77.698,20.541,-40.087,35.729,326.51,372.87)"/><circle r="0.095" fill="url(#dotL)" transform="matrix(79.290,21.399,-40.815,37.148,327.35,381.28)"/><circle r="0.095" fill="url(#dotL)" transform="matrix(80.949,22.310,-41.569,38.654,328.23,390.03)"/><circle r="0.095" fill="url(#dotL)" transform="matrix(77.757,20.144,-38.535,35.073,341.09,368.77)"/><circle r="0.095" fill="url(#dotL)" transform="matrix(79.351,20.978,-39.202,36.453,342.21,377.02)"/></g>
<polygon points="265.20,351.10 339.30,370.40 297.00,408.90 218.90,385.90" fill="none" stroke="#222" stroke-width="0.7" stroke-linejoin="miter"/>
<polygon points="383.7,375.0 437.6,334.6 437.6,360.90000000000003 383.7,401.3" fill="#f2c6cc"/>
<polygon points="383.7,403.9 437.6,363.5 437.6,404.40000000000003 383.7,444.8" fill="#f3e2cf"/>
<polygon points="436.10,394.90 511.40,415.60 468.10,455.70 388.40,431.40" fill="#f7f6fb"/>
<polygon points="436.10,394.90 511.40,415.60 468.10,455.70 388.40,431.40" fill="none" stroke="#222" stroke-width="0.7" stroke-linejoin="miter"/>
<polygon points="436.10,382.20 511.75,402.90 468.10,443.00 388.00,418.70" fill="#5a2e9d"/>
<g clip-path="url(#lc9)"><circle r="0.1" fill="url(#dotD)" transform="matrix(75.017,22.318,-51.036,38.062,389.73,409.43)"/><circle r="0.1" fill="url(#dotD)" transform="matrix(76.405,23.161,-52.138,39.564,388.36,418.42)"/><circle r="0.1" fill="url(#dotD)" transform="matrix(73.656,21.132,-48.204,35.951,406.91,396.61)"/><circle r="0.1" fill="url(#dotD)" transform="matrix(74.994,21.906,-49.192,37.329,405.91,405.11)"/><circle r="0.1" fill="url(#dotD)" transform="matrix(76.382,22.725,-50.221,38.787,404.87,413.93)"/><circle r="0.1" fill="url(#dotD)" transform="matrix(77.823,23.591,-51.294,40.332,403.79,423.10)"/><circle r="0.1" fill="url(#dotD)" transform="matrix(72.330,20.039,-45.602,34.010,423.15,384.50)"/><circle r="0.1" fill="url(#dotD)" transform="matrix(73.620,20.752,-46.489,35.277,422.47,392.54)"/><circle r="0.1" fill="url(#dotD)" transform="matrix(74.958,21.505,-47.411,36.616,421.77,400.88)"/><circle r="0.1" fill="url(#dotD)" transform="matrix(76.346,22.301,-48.370,38.033,421.04,409.53)"/><circle r="0.1" fill="url(#dotD)" transform="matrix(77.785,23.142,-49.368,39.532,420.28,418.52)"/><circle r="0.1" fill="url(#dotD)" transform="matrix(79.280,24.033,-50.409,41.121,419.50,427.86)"/><circle r="0.1" fill="url(#dotD)" transform="matrix(72.283,19.690,-44.003,33.391,438.14,380.65)"/><circle r="0.1" fill="url(#dotD)" transform="matrix(73.573,20.384,-44.830,34.623,437.74,388.54)"/><circle r="0.1" fill="url(#dotD)" transform="matrix(74.909,21.116,-45.689,35.925,437.33,396.73)"/><circle r="0.1" fill="url(#dotD)" transform="matrix(76.295,21.889,-46.582,37.300,436.89,405.22)"/><circle r="0.1" fill="url(#dotD)" transform="matrix(77.733,22.706,-47.510,38.756,436.45,414.03)"/><circle r="0.1" fill="url(#dotD)" transform="matrix(79.227,23.571,-48.475,40.298,435.98,423.19)"/><circle r="0.1" fill="url(#dotD)" transform="matrix(80.779,24.487,-49.481,41.933,435.50,432.71)"/><circle r="0.1" fill="url(#dotD)" transform="matrix(73.514,20.025,-43.225,33.987,452.72,384.62)"/><circle r="0.1" fill="url(#dotD)" transform="matrix(74.848,20.737,-44.024,35.252,452.58,392.66)"/><circle r="0.1" fill="url(#dotD)" transform="matrix(76.232,21.489,-44.854,36.589,452.44,400.99)"/><circle r="0.1" fill="url(#dotD)" transform="matrix(77.668,22.283,-45.715,38.003,452.29,409.63)"/><circle r="0.1" fill="url(#dotD)" transform="matrix(79.159,23.122,-46.610,39.499,452.14,418.61)"/><circle r="0.1" fill="url(#dotD)" transform="matrix(80.709,24.012,-47.540,41.085,451.98,427.95)"/><circle r="0.1" fill="url(#dotD)" transform="matrix(82.320,24.955,-48.509,42.768,451.81,437.66)"/><circle r="0.1" fill="url(#dotD)" transform="matrix(74.776,20.369,-42.414,34.599,467.55,388.66)"/><circle r="0.1" fill="url(#dotD)" transform="matrix(76.157,21.100,-43.184,35.899,467.68,396.84)"/><circle r="0.1" fill="url(#dotD)" transform="matrix(77.591,21.872,-43.981,37.272,467.82,405.32)"/><circle r="0.1" fill="url(#dotD)" transform="matrix(79.079,22.687,-44.809,38.725,467.96,414.13)"/><circle r="0.1" fill="url(#dotD)" transform="matrix(80.625,23.551,-45.668,40.264,468.11,423.28)"/><circle r="0.1" fill="url(#dotD)" transform="matrix(82.233,24.465,-46.562,41.896,468.27,432.80)"/><circle r="0.1" fill="url(#dotD)" transform="matrix(83.907,25.435,-47.490,43.628,468.43,442.70)"/><circle r="0.1" fill="url(#dotD)" transform="matrix(76.071,20.722,-41.569,35.228,482.63,392.77)"/><circle r="0.1" fill="url(#dotD)" transform="matrix(77.501,21.472,-42.306,36.562,483.05,401.10)"/><circle r="0.1" fill="url(#dotD)" transform="matrix(78.985,22.265,-43.070,37.973,483.48,409.74)"/><circle r="0.1" fill="url(#dotD)" transform="matrix(80.528,23.103,-43.862,39.467,483.92,418.71)"/><circle r="0.1" fill="url(#dotD)" transform="matrix(82.132,23.991,-44.684,41.050,484.39,428.04)"/><circle r="0.1" fill="url(#dotD)" transform="matrix(83.801,24.932,-45.537,42.729,484.87,437.74)"/><circle r="0.1" fill="url(#dotD)" transform="matrix(77.400,21.084,-40.688,35.872,497.98,396.95)"/><circle r="0.1" fill="url(#dotD)" transform="matrix(78.881,21.854,-41.391,37.243,498.68,405.43)"/><circle r="0.1" fill="url(#dotD)" transform="matrix(80.418,22.669,-42.119,38.694,499.42,414.23)"/><circle r="0.1" fill="url(#dotD)" transform="matrix(82.017,23.530,-42.873,40.230,500.18,423.37)"/><circle r="0.1" fill="url(#dotD)" transform="matrix(78.765,21.456,-39.769,36.535,513.59,401.21)"/><circle r="0.1" fill="url(#dotD)" transform="matrix(80.297,22.247,-40.436,37.943,514.60,409.84)"/></g>
<polygon points="436.10,382.20 511.75,402.90 468.10,443.00 388.00,418.70" fill="none" stroke="#222" stroke-width="0.7" stroke-linejoin="miter"/>
<polygon points="436.10,369.50 512.10,390.20 468.10,430.30 387.60,406.00" fill="#f3f3f9"/>
<g clip-path="url(#lc10)"><circle r="0.095" fill="url(#dotL)" transform="matrix(75.404,22.324,-51.472,38.070,389.37,396.73)"/><circle r="0.095" fill="url(#dotL)" transform="matrix(76.802,23.166,-52.589,39.578,387.97,405.72)"/><circle r="0.095" fill="url(#dotL)" transform="matrix(74.027,21.136,-48.605,35.950,406.70,383.91)"/><circle r="0.095" fill="url(#dotL)" transform="matrix(75.374,21.910,-49.606,37.332,405.66,392.41)"/><circle r="0.095" fill="url(#dotL)" transform="matrix(76.771,22.728,-50.648,38.795,404.59,401.23)"/><circle r="0.095" fill="url(#dotL)" transform="matrix(78.220,23.594,-51.735,40.345,403.47,410.40)"/><circle r="0.095" fill="url(#dotL)" transform="matrix(72.684,20.044,-45.971,34.001,423.07,371.80)"/><circle r="0.095" fill="url(#dotL)" transform="matrix(73.983,20.756,-46.869,35.272,422.36,379.84)"/><circle r="0.095" fill="url(#dotL)" transform="matrix(75.330,21.508,-47.802,36.615,421.63,388.18)"/><circle r="0.095" fill="url(#dotL)" transform="matrix(76.726,22.303,-48.773,38.036,420.87,396.83)"/><circle r="0.095" fill="url(#dotL)" transform="matrix(78.175,23.144,-49.785,39.540,420.08,405.82)"/><circle r="0.095" fill="url(#dotL)" transform="matrix(79.679,24.034,-50.839,41.135,419.26,415.16)"/><circle r="0.095" fill="url(#dotL)" transform="matrix(72.631,19.694,-44.352,33.378,438.16,367.95)"/><circle r="0.095" fill="url(#dotL)" transform="matrix(73.928,20.387,-45.190,34.614,437.73,375.84)"/><circle r="0.095" fill="url(#dotL)" transform="matrix(75.273,21.118,-46.059,35.919,437.29,384.03)"/><circle r="0.095" fill="url(#dotL)" transform="matrix(76.667,21.890,-46.963,37.299,436.83,392.52)"/><circle r="0.095" fill="url(#dotL)" transform="matrix(78.114,22.707,-47.903,38.759,436.35,401.33)"/><circle r="0.095" fill="url(#dotL)" transform="matrix(79.617,23.571,-48.881,40.306,435.86,410.49)"/><circle r="0.095" fill="url(#dotL)" transform="matrix(81.179,24.486,-49.900,41.947,435.34,420.01)"/><circle r="0.095" fill="url(#dotL)" transform="matrix(73.862,20.028,-43.566,33.975,452.81,371.92)"/><circle r="0.095" fill="url(#dotL)" transform="matrix(75.204,20.739,-44.375,35.244,452.64,379.96)"/><circle r="0.095" fill="url(#dotL)" transform="matrix(76.596,21.489,-45.215,36.584,452.47,388.29)"/><circle r="0.095" fill="url(#dotL)" transform="matrix(78.041,22.282,-46.087,38.002,452.30,396.93)"/><circle r="0.095" fill="url(#dotL)" transform="matrix(79.541,23.121,-46.993,39.503,452.12,405.91)"/><circle r="0.095" fill="url(#dotL)" transform="matrix(81.100,24.010,-47.936,41.094,451.93,415.25)"/><circle r="0.095" fill="url(#dotL)" transform="matrix(82.722,24.952,-48.917,42.782,451.73,424.96)"/><circle r="0.095" fill="url(#dotL)" transform="matrix(75.124,20.370,-42.746,34.587,467.70,375.96)"/><circle r="0.095" fill="url(#dotL)" transform="matrix(76.513,21.100,-43.525,35.889,467.81,384.14)"/><circle r="0.095" fill="url(#dotL)" transform="matrix(77.955,21.871,-44.333,37.266,467.93,392.62)"/><circle r="0.095" fill="url(#dotL)" transform="matrix(79.452,22.685,-45.171,38.724,468.05,401.43)"/><circle r="0.095" fill="url(#dotL)" transform="matrix(81.007,23.548,-46.041,40.267,468.17,410.58)"/><circle r="0.095" fill="url(#dotL)" transform="matrix(82.625,24.461,-46.946,41.904,468.30,420.09)"/><circle r="0.095" fill="url(#dotL)" transform="matrix(84.309,25.430,-47.887,43.642,468.43,430.00)"/><circle r="0.095" fill="url(#dotL)" transform="matrix(76.419,20.721,-41.892,35.215,482.86,380.07)"/><circle r="0.095" fill="url(#dotL)" transform="matrix(77.857,21.470,-42.638,36.553,483.25,388.40)"/><circle r="0.095" fill="url(#dotL)" transform="matrix(79.350,22.262,-43.412,37.968,483.66,397.03)"/><circle r="0.095" fill="url(#dotL)" transform="matrix(80.901,23.099,-44.214,39.466,484.08,406.01)"/><circle r="0.095" fill="url(#dotL)" transform="matrix(82.514,23.986,-45.046,41.053,484.52,415.33)"/><circle r="0.095" fill="url(#dotL)" transform="matrix(84.193,24.925,-45.910,42.738,484.98,425.03)"/><circle r="0.095" fill="url(#dotL)" transform="matrix(77.748,21.082,-41.001,35.859,498.27,384.25)"/><circle r="0.095" fill="url(#dotL)" transform="matrix(79.237,21.851,-41.714,37.234,498.96,392.73)"/><circle r="0.095" fill="url(#dotL)" transform="matrix(80.783,22.664,-42.451,38.688,499.67,401.53)"/><circle r="0.095" fill="url(#dotL)" transform="matrix(82.391,23.524,-43.214,40.228,500.41,410.67)"/><circle r="0.095" fill="url(#dotL)" transform="matrix(79.112,21.452,-40.073,36.521,513.96,388.51)"/><circle r="0.095" fill="url(#dotL)" transform="matrix(80.653,22.241,-40.749,37.934,514.95,397.14)"/></g>
<polygon points="436.10,369.50 512.10,390.20 468.10,430.30 387.60,406.00" fill="none" stroke="#222" stroke-width="0.7" stroke-linejoin="miter"/>
<polygon points="436.10,356.80 512.45,377.50 468.10,417.60 387.20,393.30" fill="#eeeef7"/>
<g clip-path="url(#lc11)"><circle r="0.1" fill="url(#dotM)" transform="matrix(75.792,22.329,-51.909,38.078,389.01,384.02)"/><circle r="0.1" fill="url(#dotM)" transform="matrix(77.198,23.170,-53.041,39.591,387.57,393.02)"/><circle r="0.1" fill="url(#dotM)" transform="matrix(74.397,21.141,-49.006,35.948,406.48,371.21)"/><circle r="0.1" fill="url(#dotM)" transform="matrix(75.753,21.914,-50.019,37.335,405.41,379.71)"/><circle r="0.1" fill="url(#dotM)" transform="matrix(77.159,22.731,-51.075,38.803,404.30,388.53)"/><circle r="0.1" fill="url(#dotM)" transform="matrix(78.618,23.597,-52.175,40.359,403.15,397.70)"/><circle r="0.1" fill="url(#dotM)" transform="matrix(73.039,20.049,-46.339,33.993,422.99,359.10)"/><circle r="0.1" fill="url(#dotM)" transform="matrix(74.346,20.760,-47.248,35.267,422.25,367.14)"/><circle r="0.1" fill="url(#dotM)" transform="matrix(75.701,21.511,-48.194,36.614,421.49,375.47)"/><circle r="0.1" fill="url(#dotM)" transform="matrix(77.106,22.305,-49.177,38.039,420.70,384.13)"/><circle r="0.1" fill="url(#dotM)" transform="matrix(78.564,23.145,-50.201,39.548,419.88,393.12)"/><circle r="0.1" fill="url(#dotM)" transform="matrix(80.078,24.035,-51.269,41.148,419.02,402.46)"/><circle r="0.1" fill="url(#dotM)" transform="matrix(72.978,19.698,-44.702,33.366,438.17,355.25)"/><circle r="0.1" fill="url(#dotM)" transform="matrix(74.284,20.390,-45.550,34.606,437.72,363.14)"/><circle r="0.1" fill="url(#dotM)" transform="matrix(75.636,21.120,-46.430,35.914,437.25,371.32)"/><circle r="0.1" fill="url(#dotM)" transform="matrix(77.039,21.892,-47.345,37.298,436.76,379.81)"/><circle r="0.1" fill="url(#dotM)" transform="matrix(78.496,22.707,-48.297,38.763,436.26,388.63)"/><circle r="0.1" fill="url(#dotM)" transform="matrix(80.008,23.571,-49.287,40.315,435.73,397.79)"/><circle r="0.1" fill="url(#dotM)" transform="matrix(81.579,24.485,-50.320,41.961,435.19,407.31)"/><circle r="0.1" fill="url(#dotM)" transform="matrix(74.209,20.030,-43.907,33.963,452.89,359.23)"/><circle r="0.1" fill="url(#dotM)" transform="matrix(75.560,20.740,-44.726,35.235,452.70,367.26)"/><circle r="0.1" fill="url(#dotM)" transform="matrix(76.960,21.490,-45.576,36.579,452.51,375.58)"/><circle r="0.1" fill="url(#dotM)" transform="matrix(78.414,22.282,-46.459,38.001,452.31,384.23)"/><circle r="0.1" fill="url(#dotM)" transform="matrix(79.923,23.120,-47.376,39.506,452.10,393.21)"/><circle r="0.1" fill="url(#dotM)" transform="matrix(81.492,24.008,-48.331,41.103,451.88,402.55)"/><circle r="0.1" fill="url(#dotM)" transform="matrix(83.123,24.949,-49.325,42.797,451.65,412.26)"/><circle r="0.1" fill="url(#dotM)" transform="matrix(75.472,20.371,-43.078,34.574,467.86,363.27)"/><circle r="0.1" fill="url(#dotM)" transform="matrix(76.869,21.100,-43.866,35.880,467.95,371.44)"/><circle r="0.1" fill="url(#dotM)" transform="matrix(78.319,21.870,-44.684,37.261,468.04,379.92)"/><circle r="0.1" fill="url(#dotM)" transform="matrix(79.825,22.683,-45.533,38.723,468.13,388.73)"/><circle r="0.1" fill="url(#dotM)" transform="matrix(81.390,23.545,-46.414,40.271,468.23,397.88)"/><circle r="0.1" fill="url(#dotM)" transform="matrix(83.017,24.457,-47.330,41.913,468.33,407.39)"/><circle r="0.1" fill="url(#dotM)" transform="matrix(84.711,25.425,-48.284,43.657,468.44,417.30)"/><circle r="0.1" fill="url(#dotM)" transform="matrix(76.767,20.721,-42.215,35.202,483.08,367.37)"/><circle r="0.1" fill="url(#dotM)" transform="matrix(78.213,21.469,-42.970,36.544,483.45,375.70)"/><circle r="0.1" fill="url(#dotM)" transform="matrix(79.715,22.259,-43.753,37.962,483.84,384.33)"/><circle r="0.1" fill="url(#dotM)" transform="matrix(81.275,23.095,-44.565,39.464,484.24,393.30)"/><circle r="0.1" fill="url(#dotM)" transform="matrix(82.897,23.981,-45.408,41.057,484.66,402.63)"/><circle r="0.1" fill="url(#dotM)" transform="matrix(84.586,24.919,-46.283,42.747,485.09,412.33)"/><circle r="0.1" fill="url(#dotM)" transform="matrix(78.096,21.079,-41.315,35.847,498.57,371.55)"/><circle r="0.1" fill="url(#dotM)" transform="matrix(79.593,21.847,-42.036,37.224,499.23,380.03)"/><circle r="0.1" fill="url(#dotM)" transform="matrix(81.148,22.659,-42.782,38.682,499.93,388.82)"/><circle r="0.1" fill="url(#dotM)" transform="matrix(82.764,23.519,-43.555,40.227,500.64,397.97)"/><circle r="0.1" fill="url(#dotM)" transform="matrix(79.460,21.447,-40.378,36.508,514.32,375.81)"/><circle r="0.1" fill="url(#dotM)" transform="matrix(81.009,22.236,-41.061,37.924,515.29,384.44)"/></g>
<polygon points="436.10,356.80 512.45,377.50 468.10,417.60 387.20,393.30" fill="none" stroke="#222" stroke-width="0.7" stroke-linejoin="miter"/>
<polygon points="436.10,344.10 512.80,364.80 468.10,404.90 386.80,380.60" fill="#eeedf6"/>
<g clip-path="url(#lc12)"><circle r="0.12" fill="url(#dotP)" transform="matrix(76.179,22.334,-52.346,38.086,388.65,371.32)"/><circle r="0.12" fill="url(#dotP)" transform="matrix(77.595,23.175,-53.492,39.603,387.17,380.32)"/><circle r="0.12" fill="url(#dotP)" transform="matrix(74.768,21.146,-49.406,35.947,406.27,358.50)"/><circle r="0.12" fill="url(#dotP)" transform="matrix(76.132,21.918,-50.432,37.338,405.17,367.00)"/><circle r="0.12" fill="url(#dotP)" transform="matrix(77.548,22.735,-51.501,38.811,404.02,375.83)"/><circle r="0.12" fill="url(#dotP)" transform="matrix(79.016,23.600,-52.616,40.372,402.83,385.00)"/><circle r="0.12" fill="url(#dotP)" transform="matrix(73.394,20.053,-46.708,33.984,422.91,346.40)"/><circle r="0.12" fill="url(#dotP)" transform="matrix(74.709,20.764,-47.628,35.262,422.14,354.43)"/><circle r="0.12" fill="url(#dotP)" transform="matrix(76.072,21.515,-48.585,36.613,421.35,362.77)"/><circle r="0.12" fill="url(#dotP)" transform="matrix(77.486,22.308,-49.581,38.043,420.53,371.43)"/><circle r="0.12" fill="url(#dotP)" transform="matrix(78.954,23.147,-50.618,39.557,419.67,380.42)"/><circle r="0.12" fill="url(#dotP)" transform="matrix(80.478,24.036,-51.699,41.162,418.78,389.76)"/><circle r="0.12" fill="url(#dotP)" transform="matrix(73.326,19.702,-45.051,33.354,438.19,342.55)"/><circle r="0.12" fill="url(#dotP)" transform="matrix(74.639,20.393,-45.909,34.597,437.71,350.44)"/><circle r="0.12" fill="url(#dotP)" transform="matrix(76.000,21.123,-46.800,35.909,437.21,358.62)"/><circle r="0.12" fill="url(#dotP)" transform="matrix(77.412,21.893,-47.727,37.297,436.70,367.11)"/><circle r="0.12" fill="url(#dotP)" transform="matrix(78.877,22.708,-48.690,38.766,436.16,375.93)"/><circle r="0.12" fill="url(#dotP)" transform="matrix(80.398,23.571,-49.694,40.323,435.61,385.09)"/><circle r="0.12" fill="url(#dotP)" transform="matrix(81.980,24.485,-50.739,41.975,435.03,394.62)"/><circle r="0.12" fill="url(#dotP)" transform="matrix(74.557,20.033,-44.247,33.951,452.98,346.53)"/><circle r="0.12" fill="url(#dotP)" transform="matrix(75.916,20.742,-45.076,35.226,452.76,354.55)"/><circle r="0.12" fill="url(#dotP)" transform="matrix(77.324,21.491,-45.937,36.574,452.55,362.88)"/><circle r="0.12" fill="url(#dotP)" transform="matrix(78.786,22.282,-46.830,38.000,452.32,371.53)"/><circle r="0.12" fill="url(#dotP)" transform="matrix(80.305,23.119,-47.760,39.510,452.08,380.51)"/><circle r="0.12" fill="url(#dotP)" transform="matrix(81.883,24.006,-48.727,41.111,451.83,389.85)"/><circle r="0.12" fill="url(#dotP)" transform="matrix(83.524,24.946,-49.733,42.811,451.58,399.56)"/><circle r="0.12" fill="url(#dotP)" transform="matrix(75.820,20.372,-43.410,34.562,468.01,350.57)"/><circle r="0.12" fill="url(#dotP)" transform="matrix(77.225,21.100,-44.208,35.872,468.08,358.74)"/><circle r="0.12" fill="url(#dotP)" transform="matrix(78.684,21.869,-45.035,37.256,468.15,367.22)"/><circle r="0.12" fill="url(#dotP)" transform="matrix(80.198,22.681,-45.894,38.722,468.21,376.02)"/><circle r="0.12" fill="url(#dotP)" transform="matrix(81.772,23.542,-46.787,40.274,468.29,385.17)"/><circle r="0.12" fill="url(#dotP)" transform="matrix(83.409,24.453,-47.715,41.921,468.36,394.69)"/><circle r="0.12" fill="url(#dotP)" transform="matrix(85.113,25.420,-48.680,43.671,468.44,404.60)"/><circle r="0.12" fill="url(#dotP)" transform="matrix(77.115,20.720,-42.538,35.190,483.31,354.68)"/><circle r="0.12" fill="url(#dotP)" transform="matrix(78.569,21.467,-43.302,36.534,483.66,363.00)"/><circle r="0.12" fill="url(#dotP)" transform="matrix(80.079,22.256,-44.095,37.957,484.02,371.63)"/><circle r="0.12" fill="url(#dotP)" transform="matrix(81.648,23.091,-44.917,39.463,484.40,380.60)"/><circle r="0.12" fill="url(#dotP)" transform="matrix(83.280,23.976,-45.770,41.060,484.79,389.93)"/><circle r="0.12" fill="url(#dotP)" transform="matrix(84.978,24.913,-46.657,42.755,485.20,399.63)"/><circle r="0.12" fill="url(#dotP)" transform="matrix(78.444,21.077,-41.629,35.834,498.86,358.86)"/><circle r="0.12" fill="url(#dotP)" transform="matrix(79.949,21.844,-42.358,37.215,499.51,367.33)"/><circle r="0.12" fill="url(#dotP)" transform="matrix(81.512,22.655,-43.114,38.677,500.18,376.12)"/><circle r="0.12" fill="url(#dotP)" transform="matrix(83.138,23.513,-43.896,40.226,500.88,385.26)"/><circle r="0.12" fill="url(#dotP)" transform="matrix(79.808,21.443,-40.682,36.495,514.69,363.11)"/><circle r="0.12" fill="url(#dotP)" transform="matrix(81.365,22.231,-41.374,37.914,515.64,371.73)"/></g>
<polygon points="436.10,344.10 512.80,364.80 468.10,404.90 386.80,380.60" fill="none" stroke="#222" stroke-width="0.7" stroke-linejoin="miter"/>
<polygon points="548.3,374.6 604.7,331.8 604.7,354.4 548.3,397.2" fill="#f2c6cc"/>
<polygon points="548.3,399.8 604.7,357.0 604.7,397.0 548.3,439.8" fill="#f3e2cf"/>
<polygon points="601.30,397.00 679.55,418.00 635.50,458.00 553.80,434.00" fill="#e4e4f2"/>
<polygon points="601.30,397.00 679.55,418.00 635.50,458.00 553.80,434.00" fill="none" stroke="#222" stroke-width="0.7" stroke-linejoin="miter"/>
<polygon points="601.30,385.80 679.90,406.80 635.50,446.80 553.40,422.80" fill="#dcdced"/>
<polygon points="601.30,385.80 679.90,406.80 635.50,446.80 553.40,422.80" fill="none" stroke="#222" stroke-width="0.7" stroke-linejoin="miter"/>
<polygon points="601.30,374.60 680.25,395.60 635.50,435.60 553.00,411.60" fill="#5a2e9d"/>
<g clip-path="url(#lc15)"><circle r="0.1" fill="url(#dotD)" transform="matrix(78.029,22.323,-50.650,38.253,554.34,402.33)"/><circle r="0.1" fill="url(#dotD)" transform="matrix(79.210,23.028,-51.508,39.458,553.36,411.32)"/><circle r="0.1" fill="url(#dotD)" transform="matrix(76.930,21.328,-48.400,36.554,571.50,389.37)"/><circle r="0.1" fill="url(#dotD)" transform="matrix(78.077,21.986,-49.185,37.678,570.80,397.97)"/><circle r="0.1" fill="url(#dotD)" transform="matrix(79.260,22.675,-49.996,38.855,570.07,406.83)"/><circle r="0.1" fill="url(#dotD)" transform="matrix(80.479,23.397,-50.835,40.088,569.33,415.97)"/><circle r="0.1" fill="url(#dotD)" transform="matrix(75.850,20.397,-46.296,34.965,587.89,376.99)"/><circle r="0.1" fill="url(#dotD)" transform="matrix(76.966,21.013,-47.016,36.016,587.45,385.21)"/><circle r="0.1" fill="url(#dotD)" transform="matrix(78.116,21.656,-47.758,37.115,587.00,393.67)"/><circle r="0.1" fill="url(#dotD)" transform="matrix(79.300,22.330,-48.524,38.266,586.53,402.40)"/><circle r="0.1" fill="url(#dotD)" transform="matrix(80.520,23.035,-49.315,39.471,586.05,411.40)"/><circle r="0.1" fill="url(#dotD)" transform="matrix(81.779,23.775,-50.133,40.733,585.55,420.68)"/><circle r="0.1" fill="url(#dotD)" transform="matrix(75.877,20.103,-44.987,34.462,603.38,373.00)"/><circle r="0.1" fill="url(#dotD)" transform="matrix(76.994,20.705,-45.667,35.490,603.18,381.10)"/><circle r="0.1" fill="url(#dotD)" transform="matrix(78.144,21.334,-46.368,36.565,602.96,389.44)"/><circle r="0.1" fill="url(#dotD)" transform="matrix(79.329,21.993,-47.091,37.690,602.74,398.04)"/><circle r="0.1" fill="url(#dotD)" transform="matrix(80.551,22.682,-47.837,38.868,602.52,406.90)"/><circle r="0.1" fill="url(#dotD)" transform="matrix(81.811,23.405,-48.606,40.101,602.28,416.04)"/><circle r="0.1" fill="url(#dotD)" transform="matrix(83.111,24.162,-49.401,41.394,602.04,425.48)"/><circle r="0.1" fill="url(#dotD)" transform="matrix(77.012,20.404,-44.352,34.976,618.67,377.05)"/><circle r="0.1" fill="url(#dotD)" transform="matrix(78.163,21.019,-45.013,36.028,618.69,385.27)"/><circle r="0.1" fill="url(#dotD)" transform="matrix(79.349,21.663,-45.695,37.127,618.71,393.74)"/><circle r="0.1" fill="url(#dotD)" transform="matrix(80.572,22.337,-46.397,38.278,618.73,402.47)"/><circle r="0.1" fill="url(#dotD)" transform="matrix(81.832,23.043,-47.121,39.484,618.75,411.47)"/><circle r="0.1" fill="url(#dotD)" transform="matrix(83.133,23.783,-47.868,40.747,618.78,420.76)"/><circle r="0.1" fill="url(#dotD)" transform="matrix(84.476,24.559,-48.639,42.072,618.80,430.35)"/><circle r="0.1" fill="url(#dotD)" transform="matrix(78.173,20.711,-43.693,35.501,634.19,381.16)"/><circle r="0.1" fill="url(#dotD)" transform="matrix(79.360,21.341,-44.335,36.577,634.44,389.51)"/><circle r="0.1" fill="url(#dotD)" transform="matrix(80.582,22.000,-44.995,37.702,634.71,398.11)"/><circle r="0.1" fill="url(#dotD)" transform="matrix(81.843,22.690,-45.675,38.880,634.97,406.97)"/><circle r="0.1" fill="url(#dotD)" transform="matrix(83.144,23.413,-46.376,40.115,635.25,416.12)"/><circle r="0.1" fill="url(#dotD)" transform="matrix(84.487,24.170,-47.099,41.409,635.54,425.56)"/><circle r="0.1" fill="url(#dotD)" transform="matrix(85.874,24.965,-47.845,42.766,635.83,435.30)"/><circle r="0.1" fill="url(#dotD)" transform="matrix(79.361,21.026,-43.010,36.039,649.94,385.34)"/><circle r="0.1" fill="url(#dotD)" transform="matrix(80.584,21.670,-43.630,37.139,650.44,393.81)"/><circle r="0.1" fill="url(#dotD)" transform="matrix(81.844,22.345,-44.268,38.291,650.95,402.54)"/><circle r="0.1" fill="url(#dotD)" transform="matrix(83.145,23.051,-44.924,39.497,651.47,411.55)"/><circle r="0.1" fill="url(#dotD)" transform="matrix(84.488,23.791,-45.601,40.761,652.01,420.84)"/><circle r="0.1" fill="url(#dotD)" transform="matrix(85.875,24.567,-46.298,42.086,652.57,430.43)"/><circle r="0.1" fill="url(#dotD)" transform="matrix(80.576,21.348,-42.300,36.589,665.94,389.58)"/><circle r="0.1" fill="url(#dotD)" transform="matrix(81.836,22.007,-42.897,37.714,666.68,398.18)"/><circle r="0.1" fill="url(#dotD)" transform="matrix(83.136,22.697,-43.512,38.893,667.44,407.05)"/><circle r="0.1" fill="url(#dotD)" transform="matrix(84.478,23.420,-44.144,40.128,668.23,416.19)"/><circle r="0.1" fill="url(#dotD)" transform="matrix(81.819,21.677,-41.563,37.151,682.18,393.88)"/><circle r="0.1" fill="url(#dotD)" transform="matrix(83.118,22.352,-42.137,38.303,683.17,402.61)"/></g>
<polygon points="601.30,374.60 680.25,395.60 635.50,435.60 553.00,411.60" fill="none" stroke="#222" stroke-width="0.7" stroke-linejoin="miter"/>
<polygon points="601.30,363.40 680.60,384.40 635.50,424.40 552.60,400.40" fill="#f3f3f9"/>
<g clip-path="url(#lc16)"><circle r="0.095" fill="url(#dotL)" transform="matrix(78.421,22.328,-51.083,38.262,553.98,391.13)"/><circle r="0.095" fill="url(#dotL)" transform="matrix(79.611,23.033,-51.953,39.472,552.96,400.12)"/><circle r="0.095" fill="url(#dotL)" transform="matrix(77.305,21.333,-48.801,36.553,571.28,378.17)"/><circle r="0.095" fill="url(#dotL)" transform="matrix(78.461,21.990,-49.597,37.682,570.55,386.76)"/><circle r="0.095" fill="url(#dotL)" transform="matrix(79.652,22.679,-50.420,38.864,569.79,395.63)"/><circle r="0.095" fill="url(#dotL)" transform="matrix(80.880,23.400,-51.270,40.102,569.01,404.77)"/><circle r="0.095" fill="url(#dotL)" transform="matrix(76.210,20.403,-46.669,34.955,587.81,365.79)"/><circle r="0.095" fill="url(#dotL)" transform="matrix(77.333,21.017,-47.398,36.011,587.34,374.00)"/><circle r="0.095" fill="url(#dotL)" transform="matrix(78.490,21.660,-48.150,37.114,586.86,382.47)"/><circle r="0.095" fill="url(#dotL)" transform="matrix(79.683,22.333,-48.927,38.270,586.36,391.20)"/><circle r="0.095" fill="url(#dotL)" transform="matrix(80.912,23.037,-49.728,39.480,585.85,400.20)"/><circle r="0.095" fill="url(#dotL)" transform="matrix(82.179,23.776,-50.557,40.748,585.32,409.49)"/><circle r="0.095" fill="url(#dotL)" transform="matrix(76.228,20.107,-45.341,34.448,603.40,361.80)"/><circle r="0.095" fill="url(#dotL)" transform="matrix(77.352,20.708,-46.030,35.480,603.17,369.90)"/><circle r="0.095" fill="url(#dotL)" transform="matrix(78.510,21.337,-46.741,36.560,602.93,378.24)"/><circle r="0.095" fill="url(#dotL)" transform="matrix(79.703,21.995,-47.473,37.689,602.68,386.84)"/><circle r="0.095" fill="url(#dotL)" transform="matrix(80.933,22.683,-48.229,38.872,602.42,395.70)"/><circle r="0.095" fill="url(#dotL)" transform="matrix(82.202,23.405,-49.009,40.110,602.16,404.84)"/><circle r="0.095" fill="url(#dotL)" transform="matrix(83.511,24.161,-49.815,41.410,601.88,414.28)"/><circle r="0.095" fill="url(#dotL)" transform="matrix(77.362,20.406,-44.698,34.962,618.76,365.85)"/><circle r="0.095" fill="url(#dotL)" transform="matrix(78.521,21.021,-45.368,36.018,618.75,374.07)"/><circle r="0.095" fill="url(#dotL)" transform="matrix(79.714,21.664,-46.058,37.122,618.75,382.54)"/><circle r="0.095" fill="url(#dotL)" transform="matrix(80.944,22.337,-46.769,38.277,618.74,391.27)"/><circle r="0.095" fill="url(#dotL)" transform="matrix(82.213,23.042,-47.503,39.488,618.74,400.27)"/><circle r="0.095" fill="url(#dotL)" transform="matrix(83.523,23.781,-48.260,40.756,618.73,409.56)"/><circle r="0.095" fill="url(#dotL)" transform="matrix(84.875,24.556,-49.042,42.087,618.72,419.15)"/><circle r="0.095" fill="url(#dotL)" transform="matrix(78.522,20.712,-44.030,35.487,634.35,369.97)"/><circle r="0.095" fill="url(#dotL)" transform="matrix(79.716,21.341,-44.679,36.567,634.58,378.31)"/><circle r="0.095" fill="url(#dotL)" transform="matrix(80.946,21.999,-45.348,37.697,634.81,386.91)"/><circle r="0.095" fill="url(#dotL)" transform="matrix(82.215,22.688,-46.037,38.879,635.06,395.77)"/><circle r="0.095" fill="url(#dotL)" transform="matrix(83.524,23.409,-46.748,40.119,635.31,404.92)"/><circle r="0.095" fill="url(#dotL)" transform="matrix(84.876,24.166,-47.480,41.418,635.57,414.35)"/><circle r="0.095" fill="url(#dotL)" transform="matrix(86.272,24.960,-48.236,42.782,635.84,424.10)"/><circle r="0.095" fill="url(#dotL)" transform="matrix(79.708,21.025,-43.337,36.025,650.17,374.14)"/><circle r="0.095" fill="url(#dotL)" transform="matrix(80.938,21.668,-43.965,37.129,650.64,382.61)"/><circle r="0.095" fill="url(#dotL)" transform="matrix(82.207,22.342,-44.611,38.285,651.13,391.34)"/><circle r="0.095" fill="url(#dotL)" transform="matrix(83.515,23.047,-45.277,39.496,651.63,400.34)"/><circle r="0.095" fill="url(#dotL)" transform="matrix(84.867,23.786,-45.962,40.765,652.15,409.64)"/><circle r="0.095" fill="url(#dotL)" transform="matrix(86.262,24.561,-46.669,42.096,652.68,419.23)"/><circle r="0.095" fill="url(#dotL)" transform="matrix(80.922,21.345,-42.618,36.574,666.23,378.38)"/><circle r="0.095" fill="url(#dotL)" transform="matrix(82.189,22.003,-43.223,37.704,666.95,386.98)"/><circle r="0.095" fill="url(#dotL)" transform="matrix(83.497,22.692,-43.845,38.887,667.70,395.84)"/><circle r="0.095" fill="url(#dotL)" transform="matrix(84.847,23.414,-44.486,40.127,668.47,404.99)"/><circle r="0.095" fill="url(#dotL)" transform="matrix(82.163,21.673,-41.871,37.136,682.54,382.68)"/><circle r="0.095" fill="url(#dotL)" transform="matrix(83.469,22.346,-42.452,38.293,683.52,391.41)"/></g>
<polygon points="601.30,363.40 680.60,384.40 635.50,424.40 552.60,400.40" fill="none" stroke="#222" stroke-width="0.7" stroke-linejoin="miter"/>
<polygon points="601.30,352.20 680.95,373.20 635.50,413.20 552.20,389.20" fill="#f3f3f9"/>
<g clip-path="url(#lc17)"><circle r="0.095" fill="url(#dotL)" transform="matrix(78.814,22.334,-51.517,38.271,553.62,379.92)"/><circle r="0.095" fill="url(#dotL)" transform="matrix(80.011,23.038,-52.399,39.486,552.57,388.92)"/><circle r="0.095" fill="url(#dotL)" transform="matrix(77.681,21.338,-49.203,36.551,571.06,366.97)"/><circle r="0.095" fill="url(#dotL)" transform="matrix(78.844,21.995,-50.009,37.685,570.30,375.56)"/><circle r="0.095" fill="url(#dotL)" transform="matrix(80.044,22.682,-50.843,38.873,569.51,384.42)"/><circle r="0.095" fill="url(#dotL)" transform="matrix(81.280,23.403,-51.705,40.117,568.69,393.57)"/><circle r="0.095" fill="url(#dotL)" transform="matrix(76.569,20.408,-47.041,34.946,587.73,354.59)"/><circle r="0.095" fill="url(#dotL)" transform="matrix(77.700,21.021,-47.780,36.005,587.23,362.80)"/><circle r="0.095" fill="url(#dotL)" transform="matrix(78.865,21.663,-48.542,37.113,586.72,371.27)"/><circle r="0.095" fill="url(#dotL)" transform="matrix(80.066,22.335,-49.329,38.273,586.19,379.99)"/><circle r="0.095" fill="url(#dotL)" transform="matrix(81.303,23.039,-50.142,39.489,585.64,389.00)"/><circle r="0.095" fill="url(#dotL)" transform="matrix(82.579,23.777,-50.982,40.763,585.08,398.29)"/><circle r="0.095" fill="url(#dotL)" transform="matrix(76.579,20.112,-45.696,34.435,603.42,350.60)"/><circle r="0.095" fill="url(#dotL)" transform="matrix(77.711,20.712,-46.394,35.471,603.16,358.70)"/><circle r="0.095" fill="url(#dotL)" transform="matrix(78.876,21.340,-47.113,36.554,602.89,367.04)"/><circle r="0.095" fill="url(#dotL)" transform="matrix(80.077,21.996,-47.855,37.688,602.61,375.63)"/><circle r="0.095" fill="url(#dotL)" transform="matrix(81.315,22.684,-48.621,38.875,602.33,384.50)"/><circle r="0.095" fill="url(#dotL)" transform="matrix(82.592,23.405,-49.412,40.120,602.03,393.64)"/><circle r="0.095" fill="url(#dotL)" transform="matrix(83.910,24.160,-50.229,41.424,601.73,403.08)"/><circle r="0.095" fill="url(#dotL)" transform="matrix(77.712,20.409,-45.043,34.948,618.85,354.66)"/><circle r="0.095" fill="url(#dotL)" transform="matrix(78.878,21.023,-45.722,36.008,618.82,362.87)"/><circle r="0.095" fill="url(#dotL)" transform="matrix(80.079,21.665,-46.421,37.116,618.78,371.34)"/><circle r="0.095" fill="url(#dotL)" transform="matrix(81.317,22.337,-47.141,38.276,618.75,380.07)"/><circle r="0.095" fill="url(#dotL)" transform="matrix(82.595,23.041,-47.885,39.492,618.72,389.07)"/><circle r="0.095" fill="url(#dotL)" transform="matrix(83.913,23.779,-48.652,40.766,618.68,398.36)"/><circle r="0.095" fill="url(#dotL)" transform="matrix(85.273,24.553,-49.444,42.102,618.65,407.95)"/><circle r="0.095" fill="url(#dotL)" transform="matrix(78.871,20.713,-44.366,35.474,634.50,358.77)"/><circle r="0.095" fill="url(#dotL)" transform="matrix(80.072,21.341,-45.024,36.557,634.71,367.11)"/><circle r="0.095" fill="url(#dotL)" transform="matrix(81.310,21.998,-45.701,37.691,634.92,375.70)"/><circle r="0.095" fill="url(#dotL)" transform="matrix(82.587,22.686,-46.400,38.878,635.14,384.57)"/><circle r="0.095" fill="url(#dotL)" transform="matrix(83.904,23.406,-47.119,40.123,635.37,393.71)"/><circle r="0.095" fill="url(#dotL)" transform="matrix(85.265,24.162,-47.862,41.427,635.60,403.15)"/><circle r="0.095" fill="url(#dotL)" transform="matrix(86.670,24.955,-48.628,42.797,635.84,412.90)"/><circle r="0.095" fill="url(#dotL)" transform="matrix(80.056,21.025,-43.664,36.011,650.40,362.94)"/><circle r="0.095" fill="url(#dotL)" transform="matrix(81.293,21.667,-44.300,37.119,650.85,371.41)"/><circle r="0.095" fill="url(#dotL)" transform="matrix(82.569,22.339,-44.954,38.279,651.31,380.14)"/><circle r="0.095" fill="url(#dotL)" transform="matrix(83.886,23.042,-45.629,39.494,651.79,389.14)"/><circle r="0.095" fill="url(#dotL)" transform="matrix(85.245,23.780,-46.323,40.769,652.28,398.43)"/><circle r="0.095" fill="url(#dotL)" transform="matrix(86.650,24.554,-47.039,42.105,652.79,408.02)"/><circle r="0.095" fill="url(#dotL)" transform="matrix(81.267,21.343,-42.935,36.560,666.53,367.18)"/><circle r="0.095" fill="url(#dotL)" transform="matrix(82.542,22.000,-43.548,37.694,667.23,375.78)"/><circle r="0.095" fill="url(#dotL)" transform="matrix(83.858,22.687,-44.179,38.881,667.95,384.64)"/><circle r="0.095" fill="url(#dotL)" transform="matrix(85.216,23.408,-44.827,40.125,668.70,393.79)"/><circle r="0.095" fill="url(#dotL)" transform="matrix(82.506,21.668,-42.180,37.122,682.90,371.48)"/><circle r="0.095" fill="url(#dotL)" transform="matrix(83.820,22.340,-42.768,38.282,683.86,380.21)"/></g>
<polygon points="601.30,352.20 680.95,373.20 635.50,413.20 552.20,389.20" fill="none" stroke="#222" stroke-width="0.7" stroke-linejoin="miter"/>
<polygon points="601.30,341.00 681.30,362.00 635.50,402.00 551.80,378.00" fill="#eeedf6"/>
<g clip-path="url(#lc18)"><circle r="0.12" fill="url(#dotP)" transform="matrix(79.206,22.339,-51.950,38.279,553.26,368.72)"/><circle r="0.12" fill="url(#dotP)" transform="matrix(80.412,23.042,-52.844,39.500,552.17,377.72)"/><circle r="0.12" fill="url(#dotP)" transform="matrix(78.056,21.343,-49.604,36.550,570.85,355.76)"/><circle r="0.12" fill="url(#dotP)" transform="matrix(79.228,21.999,-50.421,37.689,570.05,364.36)"/><circle r="0.12" fill="url(#dotP)" transform="matrix(80.436,22.686,-51.266,38.881,569.23,373.22)"/><circle r="0.12" fill="url(#dotP)" transform="matrix(81.681,23.406,-52.140,40.131,568.38,382.37)"/><circle r="0.12" fill="url(#dotP)" transform="matrix(76.929,20.413,-47.413,34.936,587.65,343.38)"/><circle r="0.12" fill="url(#dotP)" transform="matrix(78.067,21.026,-48.161,35.999,587.12,351.60)"/><circle r="0.12" fill="url(#dotP)" transform="matrix(79.240,21.667,-48.934,37.112,586.58,360.06)"/><circle r="0.12" fill="url(#dotP)" transform="matrix(80.448,22.338,-49.731,38.277,586.02,368.79)"/><circle r="0.12" fill="url(#dotP)" transform="matrix(81.694,23.041,-50.555,39.498,585.44,377.80)"/><circle r="0.12" fill="url(#dotP)" transform="matrix(82.980,23.778,-51.406,40.777,584.84,387.09)"/><circle r="0.12" fill="url(#dotP)" transform="matrix(76.930,20.116,-46.050,34.421,603.43,339.40)"/><circle r="0.12" fill="url(#dotP)" transform="matrix(78.069,20.715,-46.757,35.461,603.15,347.50)"/><circle r="0.12" fill="url(#dotP)" transform="matrix(79.242,21.342,-47.486,36.549,602.85,355.84)"/><circle r="0.12" fill="url(#dotP)" transform="matrix(80.451,21.998,-48.237,37.687,602.55,364.43)"/><circle r="0.12" fill="url(#dotP)" transform="matrix(81.697,22.685,-49.013,38.879,602.23,373.29)"/><circle r="0.12" fill="url(#dotP)" transform="matrix(82.983,23.404,-49.815,40.129,601.91,382.44)"/><circle r="0.12" fill="url(#dotP)" transform="matrix(84.310,24.159,-50.642,41.439,601.57,391.88)"/><circle r="0.12" fill="url(#dotP)" transform="matrix(78.063,20.412,-45.389,34.935,618.93,343.46)"/><circle r="0.12" fill="url(#dotP)" transform="matrix(79.235,21.025,-46.076,35.998,618.88,351.67)"/><circle r="0.12" fill="url(#dotP)" transform="matrix(80.444,21.666,-46.784,37.111,618.82,360.14)"/><circle r="0.12" fill="url(#dotP)" transform="matrix(81.690,22.337,-47.514,38.275,618.76,368.86)"/><circle r="0.12" fill="url(#dotP)" transform="matrix(82.976,23.040,-48.267,39.495,618.70,377.87)"/><circle r="0.12" fill="url(#dotP)" transform="matrix(84.302,23.777,-49.044,40.775,618.63,387.16)"/><circle r="0.12" fill="url(#dotP)" transform="matrix(85.672,24.550,-49.847,42.117,618.57,396.75)"/><circle r="0.12" fill="url(#dotP)" transform="matrix(79.220,20.714,-44.703,35.460,634.66,347.57)"/><circle r="0.12" fill="url(#dotP)" transform="matrix(80.428,21.341,-45.369,36.547,634.84,355.91)"/><circle r="0.12" fill="url(#dotP)" transform="matrix(81.674,21.997,-46.055,37.685,635.03,364.50)"/><circle r="0.12" fill="url(#dotP)" transform="matrix(82.958,22.684,-46.762,38.877,635.22,373.37)"/><circle r="0.12" fill="url(#dotP)" transform="matrix(84.284,23.403,-47.491,40.126,635.42,382.51)"/><circle r="0.12" fill="url(#dotP)" transform="matrix(85.653,24.158,-48.243,41.437,635.63,391.95)"/><circle r="0.12" fill="url(#dotP)" transform="matrix(87.067,24.949,-49.020,42.812,635.84,401.70)"/><circle r="0.12" fill="url(#dotP)" transform="matrix(80.403,21.024,-43.991,35.997,650.62,351.74)"/><circle r="0.12" fill="url(#dotP)" transform="matrix(81.648,21.665,-44.635,37.109,651.05,360.21)"/><circle r="0.12" fill="url(#dotP)" transform="matrix(82.931,22.336,-45.298,38.273,651.49,368.94)"/><circle r="0.12" fill="url(#dotP)" transform="matrix(84.256,23.038,-45.981,39.493,651.94,377.94)"/><circle r="0.12" fill="url(#dotP)" transform="matrix(85.624,23.775,-46.684,40.772,652.41,387.23)"/><circle r="0.12" fill="url(#dotP)" transform="matrix(87.037,24.548,-47.410,42.115,652.90,396.82)"/><circle r="0.12" fill="url(#dotP)" transform="matrix(81.613,21.340,-43.253,36.546,666.82,355.98)"/><circle r="0.12" fill="url(#dotP)" transform="matrix(82.895,21.996,-43.874,37.683,667.50,364.57)"/><circle r="0.12" fill="url(#dotP)" transform="matrix(84.218,22.682,-44.512,38.875,668.20,373.44)"/><circle r="0.12" fill="url(#dotP)" transform="matrix(85.585,23.402,-45.169,40.124,668.93,382.58)"/><circle r="0.12" fill="url(#dotP)" transform="matrix(82.850,21.664,-42.488,37.107,683.27,360.28)"/><circle r="0.12" fill="url(#dotP)" transform="matrix(84.172,22.334,-43.084,38.271,684.21,369.01)"/></g>
<polygon points="601.30,341.00 681.30,362.00 635.50,402.00 551.80,378.00" fill="none" stroke="#222" stroke-width="0.7" stroke-linejoin="miter"/>
<text x="110.5" y="335.2" font-size="11" font-style="italic" text-anchor="middle" font-family="Liberation Sans, sans-serif">ν</text>
<text x="277.5" y="335.2" font-size="11" font-style="italic" text-anchor="middle" font-family="Liberation Sans, sans-serif">ν</text>
<text x="445.0" y="335.2" font-size="11" font-style="italic" text-anchor="middle" font-family="Liberation Sans, sans-serif">ν</text>
<text x="611.5" y="335.2" font-size="11" font-style="italic" text-anchor="middle" font-family="Liberation Sans, sans-serif">ν</text>
<text x="21.5" y="353.4" font-size="10.5"><tspan font-style="italic">D</tspan> &gt; 0</text>
<line x1="35.6" y1="359" x2="35.6" y2="381" stroke="#000" stroke-width="1"/>
<polygon points="32.8,378.5 38.4,378.5 35.6,384.2" fill="#000"/>
<text x="19.4" y="404.8" font-size="10.5" font-style="italic">θ</text>
<text x="150.5" y="338.4" font-size="9.7" text-anchor="middle">LDOS</text>
<text x="132.6" y="348.0" font-size="9.6" text-anchor="middle">0</text>
<text x="170.2" y="348.0" font-size="9.6" text-anchor="middle">1</text>
<rect x="132.4" y="352.8" width="38.8" height="5.7" fill="url(#ldos)" stroke="#000" stroke-width="0.9"/>
<path d="M35.5,405.4 C32.5,405.7 28.5,406.2 26.9,407.0 C26.3,407.79999999999995 28.0,408.29999999999995 30.0,408.7" fill="none" stroke="#000" stroke-width="0.85" stroke-linejoin="round"/>
<ellipse cx="30.9" cy="409.09999999999997" rx="1.5" ry="1.15" fill="#000"/>
<path d="M210.0,396.4 C207.0,396.7 203.0,397.2 201.4,398.0 C200.8,398.79999999999995 202.5,399.29999999999995 204.5,399.7" fill="none" stroke="#000" stroke-width="0.85" stroke-linejoin="round"/>
<ellipse cx="205.4" cy="400.09999999999997" rx="1.5" ry="1.15" fill="#000"/>
<path d="M377.9,401.3 C374.9,401.6 370.9,402.1 369.29999999999995,402.90000000000003 C368.7,403.7 370.4,404.2 372.4,404.6" fill="none" stroke="#000" stroke-width="0.85" stroke-linejoin="round"/>
<ellipse cx="373.29999999999995" cy="405.0" rx="1.5" ry="1.15" fill="#000"/>
<path d="M543.7,396.4 C540.7,396.7 536.7,397.2 535.1,398.0 C534.5,398.79999999999995 536.2,399.29999999999995 538.2,399.7" fill="none" stroke="#000" stroke-width="0.85" stroke-linejoin="round"/>
<ellipse cx="539.1" cy="400.09999999999997" rx="1.5" ry="1.15" fill="#000"/>
<text x="8.2" y="14.0" font-size="12" font-weight="bold">a</text>
<text x="192.1" y="14.0" font-size="12" font-weight="bold">b</text>
<text x="360.3" y="14.0" font-size="12" font-weight="bold">c</text>
<text x="527.6" y="14.0" font-size="12" font-weight="bold">d</text>
<text x="8.5" y="173.2" font-size="12" font-weight="bold">e</text>
<text x="195.0" y="173.2" font-size="12" font-weight="bold">f</text>
<text x="359.8" y="173.2" font-size="12" font-weight="bold">g</text>
<text x="527.3" y="173.2" font-size="12" font-weight="bold">h</text>
<text x="11.7" y="335.0" font-size="12" font-weight="bold">i</text>
<text x="197.0" y="335.0" font-size="12" font-weight="bold">j</text>
<text x="359.4" y="335.0" font-size="12" font-weight="bold">k</text>
<text x="531.2" y="335.0" font-size="12" font-weight="bold">l</text>
</svg></body></html>
